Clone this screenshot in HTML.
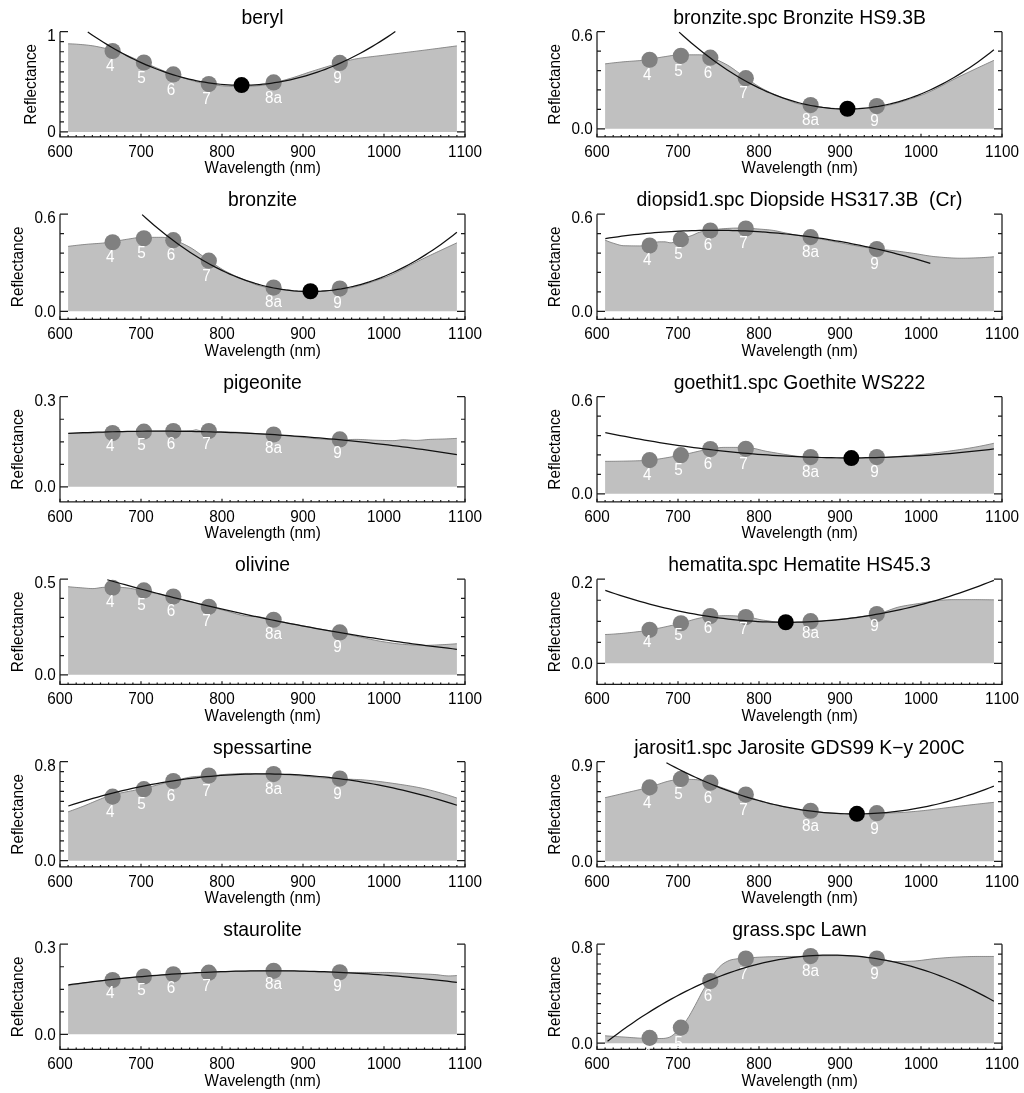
<!DOCTYPE html>
<html lang="en"><head><meta charset="utf-8"><title>Reflectance spectra</title>
<style>html,body{margin:0;padding:0;background:#fff}svg{display:block}</style>
</head><body>
<svg width="1024" height="1093" viewBox="0 0 1024 1093" font-family="'Liberation Sans', Arial, Helvetica, sans-serif" style="font-kerning:none">
<rect width="1024" height="1093" fill="#fff"/>
<g>
<path d="M60,31.7 V136.9 H465 V31.7" fill="none" stroke="#1a1a1a" stroke-width="1.25" stroke-linejoin="miter"/>
<path d="M60,131.89 h8 M465,131.89 h-8 M60,121.87 h4 M465,121.87 h-4 M60,111.85 h4 M465,111.85 h-4 M60,101.83 h4 M465,101.83 h-4 M60,91.81 h4 M465,91.81 h-4 M60,81.8 h4 M465,81.8 h-4 M60,71.78 h4 M465,71.78 h-4 M60,61.76 h4 M465,61.76 h-4 M60,51.74 h4 M465,51.74 h-4 M60,41.72 h4 M465,41.72 h-4 M60,31.7 h8 M465,31.7 h-8 M60,136.9 v-3.2 M68.1,136.9 v-1.8 M76.2,136.9 v-1.8 M84.3,136.9 v-1.8 M92.4,136.9 v-1.8 M100.5,136.9 v-1.8 M108.6,136.9 v-1.8 M116.7,136.9 v-1.8 M124.8,136.9 v-1.8 M132.9,136.9 v-1.8 M141,136.9 v-3.2 M149.1,136.9 v-1.8 M157.2,136.9 v-1.8 M165.3,136.9 v-1.8 M173.4,136.9 v-1.8 M181.5,136.9 v-1.8 M189.6,136.9 v-1.8 M197.7,136.9 v-1.8 M205.8,136.9 v-1.8 M213.9,136.9 v-1.8 M222,136.9 v-3.2 M230.1,136.9 v-1.8 M238.2,136.9 v-1.8 M246.3,136.9 v-1.8 M254.4,136.9 v-1.8 M262.5,136.9 v-1.8 M270.6,136.9 v-1.8 M278.7,136.9 v-1.8 M286.8,136.9 v-1.8 M294.9,136.9 v-1.8 M303,136.9 v-3.2 M311.1,136.9 v-1.8 M319.2,136.9 v-1.8 M327.3,136.9 v-1.8 M335.4,136.9 v-1.8 M343.5,136.9 v-1.8 M351.6,136.9 v-1.8 M359.7,136.9 v-1.8 M367.8,136.9 v-1.8 M375.9,136.9 v-1.8 M384,136.9 v-3.2 M392.1,136.9 v-1.8 M400.2,136.9 v-1.8 M408.3,136.9 v-1.8 M416.4,136.9 v-1.8 M424.5,136.9 v-1.8 M432.6,136.9 v-1.8 M440.7,136.9 v-1.8 M448.8,136.9 v-1.8 M456.9,136.9 v-1.8 M465,136.9 v-3.2" fill="none" stroke="#1a1a1a" stroke-width="1.2"/>
<polygon points="68.1,131.89 68.1,43.84 70.1,43.87 72.1,43.94 74.1,44.04 76.1,44.16 78.1,44.3 80.1,44.46 82.1,44.63 84.1,44.82 86.1,45.01 88.1,45.21 90.1,45.46 92.1,45.74 94.1,46.06 96.1,46.42 98.1,46.8 100.1,47.22 102.1,47.66 104.1,48.12 106.1,48.6 108.1,49.09 110.1,49.6 112.1,50.12 114.1,50.67 116.1,51.27 118.1,51.93 120.1,52.64 122.1,53.39 124.1,54.17 126.1,54.98 128.1,55.82 130.1,56.68 132.1,57.54 134.1,58.41 136.1,59.28 138.1,60.14 140.1,60.99 142.1,61.83 144.1,62.63 146.1,63.45 148.1,64.28 150.1,65.12 152.1,65.98 154.1,66.84 156.1,67.7 158.1,68.55 160.1,69.4 162.1,70.24 164.1,71.06 166.1,71.85 168.1,72.62 170.1,73.36 172.1,74.06 174.1,74.73 176.1,75.4 178.1,76.07 180.1,76.74 182.1,77.41 184.1,78.07 186.1,78.72 188.1,79.35 190.1,79.97 192.1,80.56 194.1,81.13 196.1,81.68 198.1,82.19 200.1,82.67 202.1,83.11 204.1,83.51 206.1,83.87 208.1,84.18 210.1,84.45 212.1,84.71 214.1,84.96 216.1,85.2 218.1,85.42 220.1,85.62 222.1,85.81 224.1,85.97 226.1,86.1 228.1,86.21 230.1,86.29 232.1,86.34 234.1,86.39 236.1,86.44 238.1,86.47 240.1,86.49 242.1,86.5 244.1,86.48 246.1,86.43 248.1,86.36 250.1,86.27 252.1,86.15 254.1,86.03 256.1,85.88 258.1,85.73 260.1,85.56 262.1,85.37 264.1,85.06 266.1,84.67 268.1,84.2 270.1,83.71 272.1,83.2 274.1,82.72 276.1,82.24 278.1,81.75 280.1,81.24 282.1,80.72 284.1,80.18 286.1,79.63 288.1,79.06 290.1,78.49 292.1,77.9 294.1,77.27 296.1,76.63 298.1,75.96 300.1,75.28 302.1,74.6 304.1,73.91 306.1,73.23 308.1,72.55 310.1,71.9 312.1,71.27 314.1,70.64 316.1,70.01 318.1,69.38 320.1,68.76 322.1,68.14 324.1,67.53 326.1,66.92 328.1,66.31 330.1,65.72 332.1,65.13 334.1,64.55 336.1,63.99 338.1,63.43 340.1,62.88 342.1,62.33 344.1,61.78 346.1,61.23 348.1,60.69 350.1,60.18 352.1,59.69 354.1,59.25 356.1,58.86 358.1,58.52 360.1,58.2 362.1,57.9 364.1,57.62 366.1,57.36 368.1,57.11 370.1,56.86 372.1,56.63 374.1,56.39 376.1,56.16 378.1,55.93 380.1,55.69 382.1,55.45 384.1,55.19 386.1,54.94 388.1,54.68 390.1,54.43 392.1,54.18 394.1,53.93 396.1,53.69 398.1,53.44 400.1,53.19 402.1,52.94 404.1,52.7 406.1,52.45 408.1,52.2 410.1,51.95 412.1,51.71 414.1,51.46 416.1,51.21 418.1,50.96 420.1,50.7 422.1,50.45 424.1,50.19 426.1,49.94 428.1,49.68 430.1,49.42 432.1,49.16 434.1,48.9 436.1,48.64 438.1,48.38 440.1,48.12 442.1,47.86 444.1,47.59 446.1,47.33 448.1,47.06 450.1,46.8 452.1,46.53 454.1,46.26 456.1,46 456.9,45.89 456.9,131.89" fill="#c0c0c0"/>
<polyline points="68.1,43.84 70.1,43.87 72.1,43.94 74.1,44.04 76.1,44.16 78.1,44.3 80.1,44.46 82.1,44.63 84.1,44.82 86.1,45.01 88.1,45.21 90.1,45.46 92.1,45.74 94.1,46.06 96.1,46.42 98.1,46.8 100.1,47.22 102.1,47.66 104.1,48.12 106.1,48.6 108.1,49.09 110.1,49.6 112.1,50.12 114.1,50.67 116.1,51.27 118.1,51.93 120.1,52.64 122.1,53.39 124.1,54.17 126.1,54.98 128.1,55.82 130.1,56.68 132.1,57.54 134.1,58.41 136.1,59.28 138.1,60.14 140.1,60.99 142.1,61.83 144.1,62.63 146.1,63.45 148.1,64.28 150.1,65.12 152.1,65.98 154.1,66.84 156.1,67.7 158.1,68.55 160.1,69.4 162.1,70.24 164.1,71.06 166.1,71.85 168.1,72.62 170.1,73.36 172.1,74.06 174.1,74.73 176.1,75.4 178.1,76.07 180.1,76.74 182.1,77.41 184.1,78.07 186.1,78.72 188.1,79.35 190.1,79.97 192.1,80.56 194.1,81.13 196.1,81.68 198.1,82.19 200.1,82.67 202.1,83.11 204.1,83.51 206.1,83.87 208.1,84.18 210.1,84.45 212.1,84.71 214.1,84.96 216.1,85.2 218.1,85.42 220.1,85.62 222.1,85.81 224.1,85.97 226.1,86.1 228.1,86.21 230.1,86.29 232.1,86.34 234.1,86.39 236.1,86.44 238.1,86.47 240.1,86.49 242.1,86.5 244.1,86.48 246.1,86.43 248.1,86.36 250.1,86.27 252.1,86.15 254.1,86.03 256.1,85.88 258.1,85.73 260.1,85.56 262.1,85.37 264.1,85.06 266.1,84.67 268.1,84.2 270.1,83.71 272.1,83.2 274.1,82.72 276.1,82.24 278.1,81.75 280.1,81.24 282.1,80.72 284.1,80.18 286.1,79.63 288.1,79.06 290.1,78.49 292.1,77.9 294.1,77.27 296.1,76.63 298.1,75.96 300.1,75.28 302.1,74.6 304.1,73.91 306.1,73.23 308.1,72.55 310.1,71.9 312.1,71.27 314.1,70.64 316.1,70.01 318.1,69.38 320.1,68.76 322.1,68.14 324.1,67.53 326.1,66.92 328.1,66.31 330.1,65.72 332.1,65.13 334.1,64.55 336.1,63.99 338.1,63.43 340.1,62.88 342.1,62.33 344.1,61.78 346.1,61.23 348.1,60.69 350.1,60.18 352.1,59.69 354.1,59.25 356.1,58.86 358.1,58.52 360.1,58.2 362.1,57.9 364.1,57.62 366.1,57.36 368.1,57.11 370.1,56.86 372.1,56.63 374.1,56.39 376.1,56.16 378.1,55.93 380.1,55.69 382.1,55.45 384.1,55.19 386.1,54.94 388.1,54.68 390.1,54.43 392.1,54.18 394.1,53.93 396.1,53.69 398.1,53.44 400.1,53.19 402.1,52.94 404.1,52.7 406.1,52.45 408.1,52.2 410.1,51.95 412.1,51.71 414.1,51.46 416.1,51.21 418.1,50.96 420.1,50.7 422.1,50.45 424.1,50.19 426.1,49.94 428.1,49.68 430.1,49.42 432.1,49.16 434.1,48.9 436.1,48.64 438.1,48.38 440.1,48.12 442.1,47.86 444.1,47.59 446.1,47.33 448.1,47.06 450.1,46.8 452.1,46.53 454.1,46.26 456.1,46 456.9,45.89" fill="none" stroke="#8a8a8a" stroke-width="1"/>
<circle cx="112.6" cy="51.02" r="8.1" fill="#808080"/>
<circle cx="143.9" cy="62.5" r="8.1" fill="#808080"/>
<circle cx="173.3" cy="74.4" r="8.1" fill="#808080"/>
<circle cx="208.8" cy="84.04" r="8.1" fill="#808080"/>
<circle cx="273.6" cy="82.4" r="8.1" fill="#808080"/>
<circle cx="339.8" cy="62.91" r="8.1" fill="#808080"/>
<text transform="translate(110.3,71.46) scale(1,1.02)" font-size="15.3" fill="#fff" text-anchor="middle">4</text>
<text transform="translate(141.6,82.94) scale(1,1.02)" font-size="15.3" fill="#fff" text-anchor="middle">5</text>
<text transform="translate(171,94.84) scale(1,1.02)" font-size="15.3" fill="#fff" text-anchor="middle">6</text>
<text transform="translate(206.5,104.48) scale(1,1.02)" font-size="15.3" fill="#fff" text-anchor="middle">7</text>
<text transform="translate(273.6,102.83) scale(1,1.02)" font-size="15.3" fill="#fff" text-anchor="middle">8a</text>
<text transform="translate(337.5,83.35) scale(1,1.02)" font-size="15.3" fill="#fff" text-anchor="middle">9</text>
<polyline points="87.79,31.98 91.68,34.65 95.57,37.25 99.47,39.78 103.36,42.25 107.25,44.64 111.15,46.97 115.04,49.22 118.93,51.41 122.83,53.53 126.72,55.58 130.61,57.57 134.51,59.48 138.4,61.33 142.29,63.1 146.19,64.81 150.08,66.45 153.97,68.02 157.87,69.53 161.76,70.96 165.65,72.33 169.54,73.63 173.44,74.85 177.33,76.01 181.22,77.11 185.12,78.13 189.01,79.08 192.9,79.97 196.8,80.79 200.69,81.54 204.58,82.22 208.48,82.83 212.37,83.37 216.26,83.85 220.16,84.25 224.05,84.59 227.94,84.86 231.84,85.06 235.73,85.19 239.62,85.25 243.52,85.25 247.41,85.17 251.3,85.03 255.2,84.82 259.09,84.54 262.98,84.19 266.88,83.78 270.77,83.29 274.66,82.74 278.55,82.12 282.45,81.43 286.34,80.67 290.23,79.84 294.13,78.94 298.02,77.98 301.91,76.94 305.81,75.84 309.7,74.67 313.59,73.43 317.49,72.12 321.38,70.75 325.27,69.3 329.17,67.79 333.06,66.21 336.95,64.56 340.85,62.84 344.74,61.05 348.63,59.19 352.53,57.27 356.42,55.27 360.31,53.21 364.21,51.08 368.1,48.88 371.99,46.62 375.89,44.28 379.78,41.88 383.67,39.4 387.57,36.86 391.46,34.25 395.35,31.57" fill="none" stroke="#111" stroke-width="1.25"/>
<circle cx="241.6" cy="85.06" r="8" fill="#000"/>
<text transform="translate(60,156.7) scale(1,1.07)" font-size="15.3" fill="#000" text-anchor="middle">600</text>
<text transform="translate(141,156.7) scale(1,1.07)" font-size="15.3" fill="#000" text-anchor="middle">700</text>
<text transform="translate(222,156.7) scale(1,1.07)" font-size="15.3" fill="#000" text-anchor="middle">800</text>
<text transform="translate(303,156.7) scale(1,1.07)" font-size="15.3" fill="#000" text-anchor="middle">900</text>
<text transform="translate(384,156.7) scale(1,1.07)" font-size="15.3" fill="#000" text-anchor="middle">1000</text>
<text transform="translate(465,156.7) scale(1,1.07)" font-size="15.3" fill="#000" text-anchor="middle">1100</text>
<text transform="translate(262.7,173) scale(1,1.04)" font-size="15.3" fill="#000" text-anchor="middle">Wavelength (nm)</text>
<text transform="translate(55.8,40.8) scale(1,1.07)" font-size="15.3" fill="#000" text-anchor="end">1</text>
<text transform="translate(55.8,137.39) scale(1,1.07)" font-size="15.3" fill="#000" text-anchor="end">0</text>
<text transform="translate(35.6,84.3) rotate(-90) scale(1,1.04)" font-size="15.3" fill="#000" text-anchor="middle">Reflectance</text>
<text transform="translate(262.5,23.95)" font-size="19.35" fill="#000" text-anchor="middle">beryl</text>
</g>
<g>
<path d="M60,214.2 V319.4 H465 V214.2" fill="none" stroke="#1a1a1a" stroke-width="1.25" stroke-linejoin="miter"/>
<path d="M60,311.31 h8 M465,311.31 h-8 M60,291.89 h4 M465,291.89 h-4 M60,272.46 h4 M465,272.46 h-4 M60,253.04 h4 M465,253.04 h-4 M60,233.62 h4 M465,233.62 h-4 M60,214.2 h8 M465,214.2 h-8 M60,319.4 v-3.2 M68.1,319.4 v-1.8 M76.2,319.4 v-1.8 M84.3,319.4 v-1.8 M92.4,319.4 v-1.8 M100.5,319.4 v-1.8 M108.6,319.4 v-1.8 M116.7,319.4 v-1.8 M124.8,319.4 v-1.8 M132.9,319.4 v-1.8 M141,319.4 v-3.2 M149.1,319.4 v-1.8 M157.2,319.4 v-1.8 M165.3,319.4 v-1.8 M173.4,319.4 v-1.8 M181.5,319.4 v-1.8 M189.6,319.4 v-1.8 M197.7,319.4 v-1.8 M205.8,319.4 v-1.8 M213.9,319.4 v-1.8 M222,319.4 v-3.2 M230.1,319.4 v-1.8 M238.2,319.4 v-1.8 M246.3,319.4 v-1.8 M254.4,319.4 v-1.8 M262.5,319.4 v-1.8 M270.6,319.4 v-1.8 M278.7,319.4 v-1.8 M286.8,319.4 v-1.8 M294.9,319.4 v-1.8 M303,319.4 v-3.2 M311.1,319.4 v-1.8 M319.2,319.4 v-1.8 M327.3,319.4 v-1.8 M335.4,319.4 v-1.8 M343.5,319.4 v-1.8 M351.6,319.4 v-1.8 M359.7,319.4 v-1.8 M367.8,319.4 v-1.8 M375.9,319.4 v-1.8 M384,319.4 v-3.2 M392.1,319.4 v-1.8 M400.2,319.4 v-1.8 M408.3,319.4 v-1.8 M416.4,319.4 v-1.8 M424.5,319.4 v-1.8 M432.6,319.4 v-1.8 M440.7,319.4 v-1.8 M448.8,319.4 v-1.8 M456.9,319.4 v-1.8 M465,319.4 v-3.2" fill="none" stroke="#1a1a1a" stroke-width="1.2"/>
<polygon points="68.1,311.31 68.1,246.38 70.1,246.12 72.1,245.88 74.1,245.64 76.1,245.4 78.1,245.18 80.1,244.96 82.1,244.75 84.1,244.55 86.1,244.36 88.1,244.18 90.1,244.02 92.1,243.88 94.1,243.74 96.1,243.6 98.1,243.46 100.1,243.32 102.1,243.16 104.1,242.98 106.1,242.77 108.1,242.52 110.1,242.23 112.1,241.9 114.1,241.56 116.1,241.2 118.1,240.83 120.1,240.46 122.1,240.1 124.1,239.75 126.1,239.42 128.1,239.13 130.1,238.81 132.1,238.47 134.1,238.13 136.1,237.82 138.1,237.57 140.1,237.39 142.1,237.33 144.1,237.33 146.1,237.33 148.1,237.33 150.1,237.33 152.1,237.33 154.1,237.33 156.1,237.33 158.1,237.33 160.1,237.33 162.1,237.33 164.1,237.4 166.1,237.73 168.1,238.23 170.1,238.84 172.1,239.48 174.1,240.1 176.1,240.79 178.1,241.56 180.1,242.41 182.1,243.31 184.1,244.27 186.1,245.28 188.1,246.32 190.1,247.4 192.1,248.59 194.1,249.89 196.1,251.27 198.1,252.71 200.1,254.18 202.1,255.67 204.1,257.15 206.1,258.59 208.1,259.97 210.1,261.31 212.1,262.66 214.1,264.02 216.1,265.37 218.1,266.69 220.1,267.98 222.1,269.22 224.1,270.41 226.1,271.51 228.1,272.55 230.1,273.55 232.1,274.51 234.1,275.43 236.1,276.33 238.1,277.2 240.1,278.05 242.1,278.89 244.1,279.72 246.1,280.55 248.1,281.38 250.1,282.25 252.1,283.11 254.1,283.95 256.1,284.72 258.1,285.4 260.1,285.95 262.1,286.42 264.1,286.85 266.1,287.23 268.1,287.58 270.1,287.9 272.1,288.18 274.1,288.43 276.1,288.68 278.1,288.92 280.1,289.16 282.1,289.4 284.1,289.63 286.1,289.86 288.1,290.08 290.1,290.29 292.1,290.48 294.1,290.67 296.1,290.84 298.1,290.99 300.1,291.12 302.1,291.24 304.1,291.33 306.1,291.4 308.1,291.45 310.1,291.47 312.1,291.46 314.1,291.43 316.1,291.38 318.1,291.3 320.1,291.21 322.1,291.1 324.1,290.98 326.1,290.84 328.1,290.69 330.1,290.53 332.1,290.36 334.1,290.18 336.1,289.99 338.1,289.8 340.1,289.61 342.1,289.39 344.1,289.12 346.1,288.81 348.1,288.46 350.1,288.07 352.1,287.64 354.1,287.18 356.1,286.69 358.1,286.16 360.1,285.61 362.1,285.04 364.1,284.44 366.1,283.83 368.1,283.19 370.1,282.55 372.1,281.88 374.1,281.21 376.1,280.53 378.1,279.84 380.1,279.15 382.1,278.46 384.1,277.77 386.1,277.02 388.1,276.23 390.1,275.38 392.1,274.5 394.1,273.58 396.1,272.63 398.1,271.65 400.1,270.65 402.1,269.62 404.1,268.58 406.1,267.53 408.1,266.47 410.1,265.4 412.1,264.34 414.1,263.28 416.1,262.24 418.1,261.2 420.1,260.19 422.1,259.19 424.1,258.23 426.1,257.27 428.1,256.32 430.1,255.38 432.1,254.43 434.1,253.49 436.1,252.54 438.1,251.6 440.1,250.67 442.1,249.73 444.1,248.79 446.1,247.86 448.1,246.93 450.1,246 452.1,245.07 454.1,244.15 456.1,243.22 456.9,242.85 456.9,311.31" fill="#c0c0c0"/>
<polyline points="68.1,246.38 70.1,246.12 72.1,245.88 74.1,245.64 76.1,245.4 78.1,245.18 80.1,244.96 82.1,244.75 84.1,244.55 86.1,244.36 88.1,244.18 90.1,244.02 92.1,243.88 94.1,243.74 96.1,243.6 98.1,243.46 100.1,243.32 102.1,243.16 104.1,242.98 106.1,242.77 108.1,242.52 110.1,242.23 112.1,241.9 114.1,241.56 116.1,241.2 118.1,240.83 120.1,240.46 122.1,240.1 124.1,239.75 126.1,239.42 128.1,239.13 130.1,238.81 132.1,238.47 134.1,238.13 136.1,237.82 138.1,237.57 140.1,237.39 142.1,237.33 144.1,237.33 146.1,237.33 148.1,237.33 150.1,237.33 152.1,237.33 154.1,237.33 156.1,237.33 158.1,237.33 160.1,237.33 162.1,237.33 164.1,237.4 166.1,237.73 168.1,238.23 170.1,238.84 172.1,239.48 174.1,240.1 176.1,240.79 178.1,241.56 180.1,242.41 182.1,243.31 184.1,244.27 186.1,245.28 188.1,246.32 190.1,247.4 192.1,248.59 194.1,249.89 196.1,251.27 198.1,252.71 200.1,254.18 202.1,255.67 204.1,257.15 206.1,258.59 208.1,259.97 210.1,261.31 212.1,262.66 214.1,264.02 216.1,265.37 218.1,266.69 220.1,267.98 222.1,269.22 224.1,270.41 226.1,271.51 228.1,272.55 230.1,273.55 232.1,274.51 234.1,275.43 236.1,276.33 238.1,277.2 240.1,278.05 242.1,278.89 244.1,279.72 246.1,280.55 248.1,281.38 250.1,282.25 252.1,283.11 254.1,283.95 256.1,284.72 258.1,285.4 260.1,285.95 262.1,286.42 264.1,286.85 266.1,287.23 268.1,287.58 270.1,287.9 272.1,288.18 274.1,288.43 276.1,288.68 278.1,288.92 280.1,289.16 282.1,289.4 284.1,289.63 286.1,289.86 288.1,290.08 290.1,290.29 292.1,290.48 294.1,290.67 296.1,290.84 298.1,290.99 300.1,291.12 302.1,291.24 304.1,291.33 306.1,291.4 308.1,291.45 310.1,291.47 312.1,291.46 314.1,291.43 316.1,291.38 318.1,291.3 320.1,291.21 322.1,291.1 324.1,290.98 326.1,290.84 328.1,290.69 330.1,290.53 332.1,290.36 334.1,290.18 336.1,289.99 338.1,289.8 340.1,289.61 342.1,289.39 344.1,289.12 346.1,288.81 348.1,288.46 350.1,288.07 352.1,287.64 354.1,287.18 356.1,286.69 358.1,286.16 360.1,285.61 362.1,285.04 364.1,284.44 366.1,283.83 368.1,283.19 370.1,282.55 372.1,281.88 374.1,281.21 376.1,280.53 378.1,279.84 380.1,279.15 382.1,278.46 384.1,277.77 386.1,277.02 388.1,276.23 390.1,275.38 392.1,274.5 394.1,273.58 396.1,272.63 398.1,271.65 400.1,270.65 402.1,269.62 404.1,268.58 406.1,267.53 408.1,266.47 410.1,265.4 412.1,264.34 414.1,263.28 416.1,262.24 418.1,261.2 420.1,260.19 422.1,259.19 424.1,258.23 426.1,257.27 428.1,256.32 430.1,255.38 432.1,254.43 434.1,253.49 436.1,252.54 438.1,251.6 440.1,250.67 442.1,249.73 444.1,248.79 446.1,247.86 448.1,246.93 450.1,246 452.1,245.07 454.1,244.15 456.1,243.22 456.9,242.85" fill="none" stroke="#8a8a8a" stroke-width="1"/>
<circle cx="112.6" cy="242.25" r="8.1" fill="#808080"/>
<circle cx="143.9" cy="238.35" r="8.1" fill="#808080"/>
<circle cx="173.3" cy="240.2" r="8.1" fill="#808080"/>
<circle cx="208.8" cy="260.71" r="8.1" fill="#808080"/>
<circle cx="273.6" cy="287.57" r="8.1" fill="#808080"/>
<circle cx="339.8" cy="288.6" r="8.1" fill="#808080"/>
<text transform="translate(110.3,262.07) scale(1,1.02)" font-size="15.3" fill="#fff" text-anchor="middle">4</text>
<text transform="translate(141.6,258.17) scale(1,1.02)" font-size="15.3" fill="#fff" text-anchor="middle">5</text>
<text transform="translate(171,260.02) scale(1,1.02)" font-size="15.3" fill="#fff" text-anchor="middle">6</text>
<text transform="translate(206.5,280.53) scale(1,1.02)" font-size="15.3" fill="#fff" text-anchor="middle">7</text>
<text transform="translate(273.6,307.39) scale(1,1.02)" font-size="15.3" fill="#fff" text-anchor="middle">8a</text>
<text transform="translate(337.5,308.42) scale(1,1.02)" font-size="15.3" fill="#fff" text-anchor="middle">9</text>
<polyline points="142.13,214.63 146.12,218.24 150.1,221.77 154.09,225.21 158.07,228.56 162.05,231.83 166.04,235.01 170.02,238.1 174.01,241.11 177.99,244.03 181.97,246.86 185.96,249.6 189.94,252.26 193.93,254.83 197.91,257.32 201.89,259.71 205.88,262.02 209.86,264.25 213.85,266.38 217.83,268.43 221.81,270.39 225.8,272.27 229.78,274.06 233.77,275.76 237.75,277.37 241.73,278.9 245.72,280.34 249.7,281.69 253.69,282.96 257.67,284.14 261.66,285.23 265.64,286.24 269.62,287.16 273.61,287.99 277.59,288.73 281.58,289.39 285.56,289.96 289.54,290.44 293.53,290.84 297.51,291.15 301.5,291.37 305.48,291.51 309.46,291.56 313.45,291.52 317.43,291.39 321.42,291.18 325.4,290.88 329.38,290.5 333.37,290.03 337.35,289.47 341.34,288.82 345.32,288.08 349.3,287.26 353.29,286.36 357.27,285.36 361.26,284.28 365.24,283.11 369.23,281.86 373.21,280.51 377.19,279.08 381.18,277.57 385.16,275.96 389.15,274.27 393.13,272.5 397.11,270.63 401.1,268.68 405.08,266.64 409.07,264.52 413.05,262.31 417.03,260.01 421.02,257.62 425,255.15 428.99,252.59 432.97,249.94 436.95,247.21 440.94,244.39 444.92,241.48 448.91,238.48 452.89,235.4 456.88,232.23" fill="none" stroke="#111" stroke-width="1.25"/>
<circle cx="310.45" cy="291.26" r="8" fill="#000"/>
<text transform="translate(60,339.2) scale(1,1.07)" font-size="15.3" fill="#000" text-anchor="middle">600</text>
<text transform="translate(141,339.2) scale(1,1.07)" font-size="15.3" fill="#000" text-anchor="middle">700</text>
<text transform="translate(222,339.2) scale(1,1.07)" font-size="15.3" fill="#000" text-anchor="middle">800</text>
<text transform="translate(303,339.2) scale(1,1.07)" font-size="15.3" fill="#000" text-anchor="middle">900</text>
<text transform="translate(384,339.2) scale(1,1.07)" font-size="15.3" fill="#000" text-anchor="middle">1000</text>
<text transform="translate(465,339.2) scale(1,1.07)" font-size="15.3" fill="#000" text-anchor="middle">1100</text>
<text transform="translate(262.7,355.5) scale(1,1.04)" font-size="15.3" fill="#000" text-anchor="middle">Wavelength (nm)</text>
<text transform="translate(55.8,223.3) scale(1,1.07)" font-size="15.3" fill="#000" text-anchor="end">0.6</text>
<text transform="translate(55.8,316.81) scale(1,1.07)" font-size="15.3" fill="#000" text-anchor="end">0.0</text>
<text transform="translate(22.6,266.8) rotate(-90) scale(1,1.04)" font-size="15.3" fill="#000" text-anchor="middle">Reflectance</text>
<text transform="translate(262.5,206.45)" font-size="19.35" fill="#000" text-anchor="middle">bronzite</text>
</g>
<g>
<path d="M60,396.7 V501.9 H465 V396.7" fill="none" stroke="#1a1a1a" stroke-width="1.25" stroke-linejoin="miter"/>
<path d="M60,486.87 h8 M465,486.87 h-8 M60,464.33 h4 M465,464.33 h-4 M60,441.79 h4 M465,441.79 h-4 M60,419.24 h4 M465,419.24 h-4 M60,396.7 h8 M465,396.7 h-8 M60,501.9 v-3.2 M68.1,501.9 v-1.8 M76.2,501.9 v-1.8 M84.3,501.9 v-1.8 M92.4,501.9 v-1.8 M100.5,501.9 v-1.8 M108.6,501.9 v-1.8 M116.7,501.9 v-1.8 M124.8,501.9 v-1.8 M132.9,501.9 v-1.8 M141,501.9 v-3.2 M149.1,501.9 v-1.8 M157.2,501.9 v-1.8 M165.3,501.9 v-1.8 M173.4,501.9 v-1.8 M181.5,501.9 v-1.8 M189.6,501.9 v-1.8 M197.7,501.9 v-1.8 M205.8,501.9 v-1.8 M213.9,501.9 v-1.8 M222,501.9 v-3.2 M230.1,501.9 v-1.8 M238.2,501.9 v-1.8 M246.3,501.9 v-1.8 M254.4,501.9 v-1.8 M262.5,501.9 v-1.8 M270.6,501.9 v-1.8 M278.7,501.9 v-1.8 M286.8,501.9 v-1.8 M294.9,501.9 v-1.8 M303,501.9 v-3.2 M311.1,501.9 v-1.8 M319.2,501.9 v-1.8 M327.3,501.9 v-1.8 M335.4,501.9 v-1.8 M343.5,501.9 v-1.8 M351.6,501.9 v-1.8 M359.7,501.9 v-1.8 M367.8,501.9 v-1.8 M375.9,501.9 v-1.8 M384,501.9 v-3.2 M392.1,501.9 v-1.8 M400.2,501.9 v-1.8 M408.3,501.9 v-1.8 M416.4,501.9 v-1.8 M424.5,501.9 v-1.8 M432.6,501.9 v-1.8 M440.7,501.9 v-1.8 M448.8,501.9 v-1.8 M456.9,501.9 v-1.8 M465,501.9 v-3.2" fill="none" stroke="#1a1a1a" stroke-width="1.2"/>
<polygon points="68.1,486.87 68.1,433.45 70.1,433.45 72.1,433.44 74.1,433.42 76.1,433.4 78.1,433.37 80.1,433.33 82.1,433.3 84.1,433.25 86.1,433.21 88.1,433.16 90.1,433.11 92.1,433.06 94.1,433.01 96.1,432.92 98.1,432.82 100.1,432.7 102.1,432.57 104.1,432.44 106.1,432.32 108.1,432.2 110.1,432.1 112.1,432.02 114.1,431.97 116.1,431.91 118.1,431.86 120.1,431.82 122.1,431.77 124.1,431.73 126.1,431.69 128.1,431.66 130.1,431.62 132.1,431.59 134.1,431.55 136.1,431.52 138.1,431.49 140.1,431.46 142.1,431.43 144.1,431.4 146.1,431.36 148.1,431.33 150.1,431.3 152.1,431.27 154.1,431.24 156.1,431.21 158.1,431.19 160.1,431.16 162.1,431.13 164.1,431.1 166.1,431.08 168.1,431.05 170.1,431.03 172.1,431 174.1,430.98 176.1,430.96 178.1,430.95 180.1,430.93 182.1,430.92 184.1,430.9 186.1,430.88 188.1,430.85 190.1,430.81 192.1,430.71 194.1,430.2 196.1,429.78 198.1,430.28 200.1,430.83 202.1,430.96 204.1,431.05 206.1,431.11 208.1,431.18 210.1,431.26 212.1,431.34 214.1,431.41 216.1,431.48 218.1,431.55 220.1,431.62 222.1,431.69 224.1,431.76 226.1,431.82 228.1,431.9 230.1,431.97 232.1,432.04 234.1,432.13 236.1,432.21 238.1,432.3 240.1,432.4 242.1,432.51 244.1,432.64 246.1,432.78 248.1,432.93 250.1,433.1 252.1,433.26 254.1,433.42 256.1,433.58 258.1,433.73 260.1,433.87 262.1,433.99 264.1,434.11 266.1,434.23 268.1,434.34 270.1,434.46 272.1,434.58 274.1,434.71 276.1,434.84 278.1,434.99 280.1,435.16 282.1,435.32 284.1,435.5 286.1,435.69 288.1,435.88 290.1,436.07 292.1,436.27 294.1,436.48 296.1,436.68 298.1,436.89 300.1,437.1 302.1,437.3 304.1,437.51 306.1,437.71 308.1,437.91 310.1,438.11 312.1,438.29 314.1,438.48 316.1,438.65 318.1,438.82 320.1,438.97 322.1,439.12 324.1,439.26 326.1,439.38 328.1,439.49 330.1,439.58 332.1,439.66 334.1,439.73 336.1,439.77 338.1,439.8 340.1,439.81 342.1,439.79 344.1,439.74 346.1,439.68 348.1,439.61 350.1,439.53 352.1,439.47 354.1,439.42 356.1,439.4 358.1,439.41 360.1,439.47 362.1,439.55 364.1,439.65 366.1,439.77 368.1,439.89 370.1,440.01 372.1,440.11 374.1,440.19 376.1,440.26 378.1,440.32 380.1,440.38 382.1,440.44 384.1,440.49 386.1,440.54 388.1,440.58 390.1,440.61 392.1,440.63 394.1,440.61 396.1,440.48 398.1,440.26 400.1,440.03 402.1,439.85 404.1,439.81 406.1,439.88 408.1,440 410.1,440.15 412.1,440.29 414.1,440.39 416.1,440.42 418.1,440.37 420.1,440.24 422.1,440.07 424.1,439.88 426.1,439.69 428.1,439.52 430.1,439.4 432.1,439.33 434.1,439.27 436.1,439.22 438.1,439.17 440.1,439.12 442.1,439.07 444.1,439.01 446.1,438.93 448.1,438.84 450.1,438.75 452.1,438.64 454.1,438.53 456.1,438.42 456.9,438.37 456.9,486.87" fill="#c0c0c0"/>
<polyline points="68.1,433.45 70.1,433.45 72.1,433.44 74.1,433.42 76.1,433.4 78.1,433.37 80.1,433.33 82.1,433.3 84.1,433.25 86.1,433.21 88.1,433.16 90.1,433.11 92.1,433.06 94.1,433.01 96.1,432.92 98.1,432.82 100.1,432.7 102.1,432.57 104.1,432.44 106.1,432.32 108.1,432.2 110.1,432.1 112.1,432.02 114.1,431.97 116.1,431.91 118.1,431.86 120.1,431.82 122.1,431.77 124.1,431.73 126.1,431.69 128.1,431.66 130.1,431.62 132.1,431.59 134.1,431.55 136.1,431.52 138.1,431.49 140.1,431.46 142.1,431.43 144.1,431.4 146.1,431.36 148.1,431.33 150.1,431.3 152.1,431.27 154.1,431.24 156.1,431.21 158.1,431.19 160.1,431.16 162.1,431.13 164.1,431.1 166.1,431.08 168.1,431.05 170.1,431.03 172.1,431 174.1,430.98 176.1,430.96 178.1,430.95 180.1,430.93 182.1,430.92 184.1,430.9 186.1,430.88 188.1,430.85 190.1,430.81 192.1,430.71 194.1,430.2 196.1,429.78 198.1,430.28 200.1,430.83 202.1,430.96 204.1,431.05 206.1,431.11 208.1,431.18 210.1,431.26 212.1,431.34 214.1,431.41 216.1,431.48 218.1,431.55 220.1,431.62 222.1,431.69 224.1,431.76 226.1,431.82 228.1,431.9 230.1,431.97 232.1,432.04 234.1,432.13 236.1,432.21 238.1,432.3 240.1,432.4 242.1,432.51 244.1,432.64 246.1,432.78 248.1,432.93 250.1,433.1 252.1,433.26 254.1,433.42 256.1,433.58 258.1,433.73 260.1,433.87 262.1,433.99 264.1,434.11 266.1,434.23 268.1,434.34 270.1,434.46 272.1,434.58 274.1,434.71 276.1,434.84 278.1,434.99 280.1,435.16 282.1,435.32 284.1,435.5 286.1,435.69 288.1,435.88 290.1,436.07 292.1,436.27 294.1,436.48 296.1,436.68 298.1,436.89 300.1,437.1 302.1,437.3 304.1,437.51 306.1,437.71 308.1,437.91 310.1,438.11 312.1,438.29 314.1,438.48 316.1,438.65 318.1,438.82 320.1,438.97 322.1,439.12 324.1,439.26 326.1,439.38 328.1,439.49 330.1,439.58 332.1,439.66 334.1,439.73 336.1,439.77 338.1,439.8 340.1,439.81 342.1,439.79 344.1,439.74 346.1,439.68 348.1,439.61 350.1,439.53 352.1,439.47 354.1,439.42 356.1,439.4 358.1,439.41 360.1,439.47 362.1,439.55 364.1,439.65 366.1,439.77 368.1,439.89 370.1,440.01 372.1,440.11 374.1,440.19 376.1,440.26 378.1,440.32 380.1,440.38 382.1,440.44 384.1,440.49 386.1,440.54 388.1,440.58 390.1,440.61 392.1,440.63 394.1,440.61 396.1,440.48 398.1,440.26 400.1,440.03 402.1,439.85 404.1,439.81 406.1,439.88 408.1,440 410.1,440.15 412.1,440.29 414.1,440.39 416.1,440.42 418.1,440.37 420.1,440.24 422.1,440.07 424.1,439.88 426.1,439.69 428.1,439.52 430.1,439.4 432.1,439.33 434.1,439.27 436.1,439.22 438.1,439.17 440.1,439.12 442.1,439.07 444.1,439.01 446.1,438.93 448.1,438.84 450.1,438.75 452.1,438.64 454.1,438.53 456.1,438.42 456.9,438.37" fill="none" stroke="#8a8a8a" stroke-width="1"/>
<circle cx="112.6" cy="433.04" r="8.1" fill="#808080"/>
<circle cx="143.9" cy="431.61" r="8.1" fill="#808080"/>
<circle cx="173.3" cy="430.99" r="8.1" fill="#808080"/>
<circle cx="208.8" cy="430.99" r="8.1" fill="#808080"/>
<circle cx="273.6" cy="434.48" r="8.1" fill="#808080"/>
<circle cx="339.8" cy="439.4" r="8.1" fill="#808080"/>
<text transform="translate(110.3,451.48) scale(1,1.02)" font-size="15.3" fill="#fff" text-anchor="middle">4</text>
<text transform="translate(141.6,450.04) scale(1,1.02)" font-size="15.3" fill="#fff" text-anchor="middle">5</text>
<text transform="translate(171,449.42) scale(1,1.02)" font-size="15.3" fill="#fff" text-anchor="middle">6</text>
<text transform="translate(206.5,449.42) scale(1,1.02)" font-size="15.3" fill="#fff" text-anchor="middle">7</text>
<text transform="translate(273.6,452.91) scale(1,1.02)" font-size="15.3" fill="#fff" text-anchor="middle">8a</text>
<text transform="translate(337.5,457.83) scale(1,1.02)" font-size="15.3" fill="#fff" text-anchor="middle">9</text>
<polyline points="68.3,433.35 73.22,433.12 78.14,432.91 83.06,432.7 87.98,432.51 92.9,432.33 97.82,432.17 102.73,432.02 107.65,431.88 112.57,431.75 117.49,431.63 122.41,431.53 127.33,431.44 132.25,431.37 137.17,431.3 142.08,431.25 147,431.21 151.92,431.19 156.84,431.18 161.76,431.18 166.68,431.19 171.6,431.22 176.51,431.25 181.43,431.31 186.35,431.37 191.27,431.45 196.19,431.54 201.11,431.64 206.03,431.75 210.94,431.88 215.86,432.02 220.78,432.18 225.7,432.34 230.62,432.52 235.54,432.71 240.46,432.92 245.37,433.13 250.29,433.36 255.21,433.61 260.13,433.86 265.05,434.13 269.97,434.41 274.89,434.71 279.8,435.01 284.72,435.33 289.64,435.66 294.56,436.01 299.48,436.37 304.4,436.74 309.32,437.12 314.24,437.52 319.15,437.92 324.07,438.35 328.99,438.78 333.91,439.23 338.83,439.69 343.75,440.16 348.67,440.64 353.58,441.14 358.5,441.65 363.42,442.18 368.34,442.71 373.26,443.26 378.18,443.82 383.1,444.4 388.01,444.98 392.93,445.58 397.85,446.2 402.77,446.82 407.69,447.46 412.61,448.11 417.53,448.78 422.44,449.45 427.36,450.14 432.28,450.84 437.2,451.56 442.12,452.29 447.04,453.03 451.96,453.78 456.88,454.55" fill="none" stroke="#111" stroke-width="1.25"/>
<text transform="translate(60,521.7) scale(1,1.07)" font-size="15.3" fill="#000" text-anchor="middle">600</text>
<text transform="translate(141,521.7) scale(1,1.07)" font-size="15.3" fill="#000" text-anchor="middle">700</text>
<text transform="translate(222,521.7) scale(1,1.07)" font-size="15.3" fill="#000" text-anchor="middle">800</text>
<text transform="translate(303,521.7) scale(1,1.07)" font-size="15.3" fill="#000" text-anchor="middle">900</text>
<text transform="translate(384,521.7) scale(1,1.07)" font-size="15.3" fill="#000" text-anchor="middle">1000</text>
<text transform="translate(465,521.7) scale(1,1.07)" font-size="15.3" fill="#000" text-anchor="middle">1100</text>
<text transform="translate(262.7,538) scale(1,1.04)" font-size="15.3" fill="#000" text-anchor="middle">Wavelength (nm)</text>
<text transform="translate(55.8,405.8) scale(1,1.07)" font-size="15.3" fill="#000" text-anchor="end">0.3</text>
<text transform="translate(55.8,492.37) scale(1,1.07)" font-size="15.3" fill="#000" text-anchor="end">0.0</text>
<text transform="translate(22.6,449.3) rotate(-90) scale(1,1.04)" font-size="15.3" fill="#000" text-anchor="middle">Reflectance</text>
<text transform="translate(262.5,388.95)" font-size="19.35" fill="#000" text-anchor="middle">pigeonite</text>
</g>
<g>
<path d="M60,579.2 V684.4 H465 V579.2" fill="none" stroke="#1a1a1a" stroke-width="1.25" stroke-linejoin="miter"/>
<path d="M60,674.84 h8 M465,674.84 h-8 M60,655.71 h4 M465,655.71 h-4 M60,636.58 h4 M465,636.58 h-4 M60,617.45 h4 M465,617.45 h-4 M60,598.33 h4 M465,598.33 h-4 M60,579.2 h8 M465,579.2 h-8 M60,684.4 v-3.2 M68.1,684.4 v-1.8 M76.2,684.4 v-1.8 M84.3,684.4 v-1.8 M92.4,684.4 v-1.8 M100.5,684.4 v-1.8 M108.6,684.4 v-1.8 M116.7,684.4 v-1.8 M124.8,684.4 v-1.8 M132.9,684.4 v-1.8 M141,684.4 v-3.2 M149.1,684.4 v-1.8 M157.2,684.4 v-1.8 M165.3,684.4 v-1.8 M173.4,684.4 v-1.8 M181.5,684.4 v-1.8 M189.6,684.4 v-1.8 M197.7,684.4 v-1.8 M205.8,684.4 v-1.8 M213.9,684.4 v-1.8 M222,684.4 v-3.2 M230.1,684.4 v-1.8 M238.2,684.4 v-1.8 M246.3,684.4 v-1.8 M254.4,684.4 v-1.8 M262.5,684.4 v-1.8 M270.6,684.4 v-1.8 M278.7,684.4 v-1.8 M286.8,684.4 v-1.8 M294.9,684.4 v-1.8 M303,684.4 v-3.2 M311.1,684.4 v-1.8 M319.2,684.4 v-1.8 M327.3,684.4 v-1.8 M335.4,684.4 v-1.8 M343.5,684.4 v-1.8 M351.6,684.4 v-1.8 M359.7,684.4 v-1.8 M367.8,684.4 v-1.8 M375.9,684.4 v-1.8 M384,684.4 v-3.2 M392.1,684.4 v-1.8 M400.2,684.4 v-1.8 M408.3,684.4 v-1.8 M416.4,684.4 v-1.8 M424.5,684.4 v-1.8 M432.6,684.4 v-1.8 M440.7,684.4 v-1.8 M448.8,684.4 v-1.8 M456.9,684.4 v-1.8 M465,684.4 v-3.2" fill="none" stroke="#1a1a1a" stroke-width="1.2"/>
<polygon points="68.1,674.84 68.1,586.72 70.1,586.9 72.1,587.08 74.1,587.25 76.1,587.42 78.1,587.57 80.1,587.73 82.1,587.88 84.1,588.06 86.1,588.23 88.1,588.39 90.1,588.51 92.1,588.58 94.1,588.55 96.1,588.35 98.1,588.04 100.1,587.72 102.1,587.45 104.1,587.3 106.1,587.17 108.1,587.06 110.1,586.98 112.1,586.95 114.1,586.97 116.1,587.03 118.1,587.14 120.1,587.28 122.1,587.44 124.1,587.62 126.1,587.8 128.1,588.03 130.1,588.32 132.1,588.66 134.1,589.04 136.1,589.45 138.1,589.87 140.1,590.3 142.1,590.71 144.1,591.11 146.1,591.5 148.1,591.89 150.1,592.29 152.1,592.69 154.1,593.1 156.1,593.51 158.1,593.92 160.1,594.34 162.1,594.77 164.1,595.2 166.1,595.63 168.1,596.07 170.1,596.52 172.1,596.97 174.1,597.43 176.1,597.9 178.1,598.37 180.1,598.86 182.1,599.35 184.1,599.85 186.1,600.35 188.1,600.86 190.1,601.38 192.1,601.9 194.1,602.42 196.1,602.94 198.1,603.47 200.1,603.99 202.1,604.52 204.1,605.05 206.1,605.57 208.1,606.1 210.1,606.62 212.1,607.16 214.1,607.69 216.1,608.24 218.1,608.78 220.1,609.32 222.1,609.86 224.1,610.39 226.1,610.91 228.1,611.45 230.1,612.01 232.1,612.6 234.1,613.19 236.1,613.77 238.1,614.32 240.1,614.84 242.1,615.3 244.1,615.69 246.1,615.99 248.1,616.21 250.1,616.37 252.1,616.5 254.1,616.62 256.1,616.75 258.1,616.9 260.1,617.1 262.1,617.4 264.1,617.8 266.1,618.27 268.1,618.78 270.1,619.3 272.1,619.8 274.1,620.24 276.1,620.66 278.1,621.07 280.1,621.48 282.1,621.88 284.1,622.28 286.1,622.67 288.1,623.06 290.1,623.45 292.1,623.83 294.1,624.21 296.1,624.59 298.1,624.97 300.1,625.34 302.1,625.71 304.1,626.09 306.1,626.46 308.1,626.83 310.1,627.2 312.1,627.57 314.1,627.94 316.1,628.31 318.1,628.68 320.1,629.05 322.1,629.42 324.1,629.8 326.1,630.18 328.1,630.56 330.1,630.94 332.1,631.33 334.1,631.72 336.1,632.11 338.1,632.51 340.1,632.91 342.1,633.31 344.1,633.73 346.1,634.14 348.1,634.56 350.1,634.99 352.1,635.41 354.1,635.84 356.1,636.26 358.1,636.68 360.1,637.1 362.1,637.51 364.1,637.92 366.1,638.34 368.1,638.77 370.1,639.2 372.1,639.62 374.1,640.04 376.1,640.45 378.1,640.84 380.1,641.21 382.1,641.55 384.1,641.87 386.1,642.18 388.1,642.49 390.1,642.79 392.1,643.08 394.1,643.36 396.1,643.62 398.1,643.86 400.1,644.07 402.1,644.25 404.1,644.41 406.1,644.55 408.1,644.69 410.1,644.83 412.1,644.96 414.1,645.08 416.1,645.19 418.1,645.27 420.1,645.34 422.1,645.38 424.1,645.39 426.1,645.38 428.1,645.33 430.1,645.27 432.1,645.19 434.1,645.1 436.1,645 438.1,644.89 440.1,644.79 442.1,644.7 444.1,644.59 446.1,644.48 448.1,644.36 450.1,644.23 452.1,644.1 454.1,643.96 456.1,643.81 456.9,643.75 456.9,674.84" fill="#c0c0c0"/>
<polyline points="68.1,586.72 70.1,586.9 72.1,587.08 74.1,587.25 76.1,587.42 78.1,587.57 80.1,587.73 82.1,587.88 84.1,588.06 86.1,588.23 88.1,588.39 90.1,588.51 92.1,588.58 94.1,588.55 96.1,588.35 98.1,588.04 100.1,587.72 102.1,587.45 104.1,587.3 106.1,587.17 108.1,587.06 110.1,586.98 112.1,586.95 114.1,586.97 116.1,587.03 118.1,587.14 120.1,587.28 122.1,587.44 124.1,587.62 126.1,587.8 128.1,588.03 130.1,588.32 132.1,588.66 134.1,589.04 136.1,589.45 138.1,589.87 140.1,590.3 142.1,590.71 144.1,591.11 146.1,591.5 148.1,591.89 150.1,592.29 152.1,592.69 154.1,593.1 156.1,593.51 158.1,593.92 160.1,594.34 162.1,594.77 164.1,595.2 166.1,595.63 168.1,596.07 170.1,596.52 172.1,596.97 174.1,597.43 176.1,597.9 178.1,598.37 180.1,598.86 182.1,599.35 184.1,599.85 186.1,600.35 188.1,600.86 190.1,601.38 192.1,601.9 194.1,602.42 196.1,602.94 198.1,603.47 200.1,603.99 202.1,604.52 204.1,605.05 206.1,605.57 208.1,606.1 210.1,606.62 212.1,607.16 214.1,607.69 216.1,608.24 218.1,608.78 220.1,609.32 222.1,609.86 224.1,610.39 226.1,610.91 228.1,611.45 230.1,612.01 232.1,612.6 234.1,613.19 236.1,613.77 238.1,614.32 240.1,614.84 242.1,615.3 244.1,615.69 246.1,615.99 248.1,616.21 250.1,616.37 252.1,616.5 254.1,616.62 256.1,616.75 258.1,616.9 260.1,617.1 262.1,617.4 264.1,617.8 266.1,618.27 268.1,618.78 270.1,619.3 272.1,619.8 274.1,620.24 276.1,620.66 278.1,621.07 280.1,621.48 282.1,621.88 284.1,622.28 286.1,622.67 288.1,623.06 290.1,623.45 292.1,623.83 294.1,624.21 296.1,624.59 298.1,624.97 300.1,625.34 302.1,625.71 304.1,626.09 306.1,626.46 308.1,626.83 310.1,627.2 312.1,627.57 314.1,627.94 316.1,628.31 318.1,628.68 320.1,629.05 322.1,629.42 324.1,629.8 326.1,630.18 328.1,630.56 330.1,630.94 332.1,631.33 334.1,631.72 336.1,632.11 338.1,632.51 340.1,632.91 342.1,633.31 344.1,633.73 346.1,634.14 348.1,634.56 350.1,634.99 352.1,635.41 354.1,635.84 356.1,636.26 358.1,636.68 360.1,637.1 362.1,637.51 364.1,637.92 366.1,638.34 368.1,638.77 370.1,639.2 372.1,639.62 374.1,640.04 376.1,640.45 378.1,640.84 380.1,641.21 382.1,641.55 384.1,641.87 386.1,642.18 388.1,642.49 390.1,642.79 392.1,643.08 394.1,643.36 396.1,643.62 398.1,643.86 400.1,644.07 402.1,644.25 404.1,644.41 406.1,644.55 408.1,644.69 410.1,644.83 412.1,644.96 414.1,645.08 416.1,645.19 418.1,645.27 420.1,645.34 422.1,645.38 424.1,645.39 426.1,645.38 428.1,645.33 430.1,645.27 432.1,645.19 434.1,645.1 436.1,645 438.1,644.89 440.1,644.79 442.1,644.7 444.1,644.59 446.1,644.48 448.1,644.36 450.1,644.23 452.1,644.1 454.1,643.96 456.1,643.81 456.9,643.75" fill="none" stroke="#8a8a8a" stroke-width="1"/>
<circle cx="112.6" cy="587.77" r="8.1" fill="#808080"/>
<circle cx="143.9" cy="590.43" r="8.1" fill="#808080"/>
<circle cx="173.3" cy="596.58" r="8.1" fill="#808080"/>
<circle cx="208.8" cy="606.84" r="8.1" fill="#808080"/>
<circle cx="273.6" cy="619.76" r="8.1" fill="#808080"/>
<circle cx="339.8" cy="632.47" r="8.1" fill="#808080"/>
<text transform="translate(110.3,607.29) scale(1,1.02)" font-size="15.3" fill="#fff" text-anchor="middle">4</text>
<text transform="translate(141.6,609.96) scale(1,1.02)" font-size="15.3" fill="#fff" text-anchor="middle">5</text>
<text transform="translate(171,616.11) scale(1,1.02)" font-size="15.3" fill="#fff" text-anchor="middle">6</text>
<text transform="translate(206.5,626.37) scale(1,1.02)" font-size="15.3" fill="#fff" text-anchor="middle">7</text>
<text transform="translate(273.6,639.29) scale(1,1.02)" font-size="15.3" fill="#fff" text-anchor="middle">8a</text>
<text transform="translate(337.5,652) scale(1,1.02)" font-size="15.3" fill="#fff" text-anchor="middle">9</text>
<polyline points="107.27,579.77 111.69,581.02 116.12,582.26 120.55,583.49 124.97,584.72 129.4,585.93 133.82,587.14 138.25,588.33 142.67,589.52 147.1,590.69 151.52,591.86 155.95,593.01 160.37,594.16 164.8,595.3 169.22,596.43 173.65,597.55 178.08,598.65 182.5,599.75 186.93,600.84 191.35,601.92 195.78,603 200.2,604.06 204.63,605.11 209.05,606.15 213.48,607.18 217.9,608.21 222.33,609.22 226.75,610.22 231.18,611.22 235.61,612.2 240.03,613.18 244.46,614.14 248.88,615.1 253.31,616.04 257.73,616.98 262.16,617.91 266.58,618.83 271.01,619.74 275.43,620.63 279.86,621.52 284.28,622.4 288.71,623.27 293.14,624.13 297.56,624.98 301.99,625.83 306.41,626.66 310.84,627.48 315.26,628.29 319.69,629.1 324.11,629.89 328.54,630.67 332.96,631.45 337.39,632.21 341.81,632.97 346.24,633.72 350.67,634.45 355.09,635.18 359.52,635.9 363.94,636.6 368.37,637.3 372.79,637.99 377.22,638.67 381.64,639.34 386.07,640 390.49,640.65 394.92,641.29 399.34,641.92 403.77,642.54 408.2,643.15 412.62,643.76 417.05,644.35 421.47,644.93 425.9,645.51 430.32,646.07 434.75,646.63 439.17,647.17 443.6,647.71 448.02,648.23 452.45,648.75 456.88,649.26" fill="none" stroke="#111" stroke-width="1.25"/>
<text transform="translate(60,704.2) scale(1,1.07)" font-size="15.3" fill="#000" text-anchor="middle">600</text>
<text transform="translate(141,704.2) scale(1,1.07)" font-size="15.3" fill="#000" text-anchor="middle">700</text>
<text transform="translate(222,704.2) scale(1,1.07)" font-size="15.3" fill="#000" text-anchor="middle">800</text>
<text transform="translate(303,704.2) scale(1,1.07)" font-size="15.3" fill="#000" text-anchor="middle">900</text>
<text transform="translate(384,704.2) scale(1,1.07)" font-size="15.3" fill="#000" text-anchor="middle">1000</text>
<text transform="translate(465,704.2) scale(1,1.07)" font-size="15.3" fill="#000" text-anchor="middle">1100</text>
<text transform="translate(262.7,720.5) scale(1,1.04)" font-size="15.3" fill="#000" text-anchor="middle">Wavelength (nm)</text>
<text transform="translate(55.8,588.3) scale(1,1.07)" font-size="15.3" fill="#000" text-anchor="end">0.5</text>
<text transform="translate(55.8,680.34) scale(1,1.07)" font-size="15.3" fill="#000" text-anchor="end">0.0</text>
<text transform="translate(22.6,631.8) rotate(-90) scale(1,1.04)" font-size="15.3" fill="#000" text-anchor="middle">Reflectance</text>
<text transform="translate(262.5,571.45)" font-size="19.35" fill="#000" text-anchor="middle">olivine</text>
</g>
<g>
<path d="M60,761.7 V866.9 H465 V761.7" fill="none" stroke="#1a1a1a" stroke-width="1.25" stroke-linejoin="miter"/>
<path d="M60,860.71 h8 M465,860.71 h-8 M60,850.81 h4 M465,850.81 h-4 M60,840.91 h4 M465,840.91 h-4 M60,831.01 h4 M465,831.01 h-4 M60,821.11 h4 M465,821.11 h-4 M60,811.21 h4 M465,811.21 h-4 M60,801.3 h4 M465,801.3 h-4 M60,791.4 h4 M465,791.4 h-4 M60,781.5 h4 M465,781.5 h-4 M60,771.6 h4 M465,771.6 h-4 M60,761.7 h8 M465,761.7 h-8 M60,866.9 v-3.2 M68.1,866.9 v-1.8 M76.2,866.9 v-1.8 M84.3,866.9 v-1.8 M92.4,866.9 v-1.8 M100.5,866.9 v-1.8 M108.6,866.9 v-1.8 M116.7,866.9 v-1.8 M124.8,866.9 v-1.8 M132.9,866.9 v-1.8 M141,866.9 v-3.2 M149.1,866.9 v-1.8 M157.2,866.9 v-1.8 M165.3,866.9 v-1.8 M173.4,866.9 v-1.8 M181.5,866.9 v-1.8 M189.6,866.9 v-1.8 M197.7,866.9 v-1.8 M205.8,866.9 v-1.8 M213.9,866.9 v-1.8 M222,866.9 v-3.2 M230.1,866.9 v-1.8 M238.2,866.9 v-1.8 M246.3,866.9 v-1.8 M254.4,866.9 v-1.8 M262.5,866.9 v-1.8 M270.6,866.9 v-1.8 M278.7,866.9 v-1.8 M286.8,866.9 v-1.8 M294.9,866.9 v-1.8 M303,866.9 v-3.2 M311.1,866.9 v-1.8 M319.2,866.9 v-1.8 M327.3,866.9 v-1.8 M335.4,866.9 v-1.8 M343.5,866.9 v-1.8 M351.6,866.9 v-1.8 M359.7,866.9 v-1.8 M367.8,866.9 v-1.8 M375.9,866.9 v-1.8 M384,866.9 v-3.2 M392.1,866.9 v-1.8 M400.2,866.9 v-1.8 M408.3,866.9 v-1.8 M416.4,866.9 v-1.8 M424.5,866.9 v-1.8 M432.6,866.9 v-1.8 M440.7,866.9 v-1.8 M448.8,866.9 v-1.8 M456.9,866.9 v-1.8 M465,866.9 v-3.2" fill="none" stroke="#1a1a1a" stroke-width="1.2"/>
<polygon points="68.1,860.71 68.1,811.86 70.1,811.13 72.1,810.41 74.1,809.68 76.1,808.94 78.1,808.21 80.1,807.46 82.1,806.7 84.1,805.91 86.1,805.1 88.1,804.27 90.1,803.42 92.1,802.57 94.1,801.72 96.1,800.87 98.1,800.04 100.1,799.22 102.1,798.43 104.1,797.67 106.1,796.95 108.1,796.26 110.1,795.63 112.1,795.05 114.1,794.52 116.1,794.02 118.1,793.55 120.1,793.11 122.1,792.69 124.1,792.28 126.1,791.89 128.1,791.51 130.1,791.14 132.1,790.76 134.1,790.39 136.1,790 138.1,789.61 140.1,789.2 142.1,788.78 144.1,788.33 146.1,787.86 148.1,787.37 150.1,786.87 152.1,786.36 154.1,785.83 156.1,785.31 158.1,784.78 160.1,784.25 162.1,783.72 164.1,783.2 166.1,782.69 168.1,782.2 170.1,781.71 172.1,781.25 174.1,780.79 176.1,780.32 178.1,779.83 180.1,779.34 182.1,778.85 184.1,778.38 186.1,777.94 188.1,777.53 190.1,777.17 192.1,776.86 194.1,776.62 196.1,776.46 198.1,776.35 200.1,776.25 202.1,776.18 204.1,776.1 206.1,776.02 208.1,775.92 210.1,775.79 212.1,775.64 214.1,775.46 216.1,775.27 218.1,775.07 220.1,774.87 222.1,774.68 224.1,774.49 226.1,774.32 228.1,774.17 230.1,774.06 232.1,773.96 234.1,773.87 236.1,773.77 238.1,773.69 240.1,773.61 242.1,773.54 244.1,773.49 246.1,773.45 248.1,773.43 250.1,773.45 252.1,773.55 254.1,773.68 256.1,773.84 258.1,773.97 260.1,774.05 262.1,774.09 264.1,774.12 266.1,774.14 268.1,774.17 270.1,774.19 272.1,774.22 274.1,774.26 276.1,774.31 278.1,774.38 280.1,774.46 282.1,774.56 284.1,774.66 286.1,774.78 288.1,774.91 290.1,775.04 292.1,775.19 294.1,775.34 296.1,775.5 298.1,775.67 300.1,775.84 302.1,776.01 304.1,776.19 306.1,776.37 308.1,776.55 310.1,776.73 312.1,776.91 314.1,777.1 316.1,777.28 318.1,777.45 320.1,777.63 322.1,777.79 324.1,777.96 326.1,778.12 328.1,778.27 330.1,778.41 332.1,778.54 334.1,778.67 336.1,778.78 338.1,778.88 340.1,778.97 342.1,779.05 344.1,779.12 346.1,779.18 348.1,779.23 350.1,779.29 352.1,779.34 354.1,779.41 356.1,779.48 358.1,779.57 360.1,779.67 362.1,779.81 364.1,779.96 366.1,780.14 368.1,780.33 370.1,780.53 372.1,780.73 374.1,780.94 376.1,781.15 378.1,781.38 380.1,781.61 382.1,781.86 384.1,782.11 386.1,782.38 388.1,782.65 390.1,782.93 392.1,783.22 394.1,783.51 396.1,783.8 398.1,784.1 400.1,784.4 402.1,784.7 404.1,785.01 406.1,785.32 408.1,785.64 410.1,785.98 412.1,786.32 414.1,786.67 416.1,787.04 418.1,787.42 420.1,787.82 422.1,788.23 424.1,788.68 426.1,789.14 428.1,789.62 430.1,790.13 432.1,790.64 434.1,791.17 436.1,791.71 438.1,792.26 440.1,792.81 442.1,793.38 444.1,793.96 446.1,794.56 448.1,795.17 450.1,795.8 452.1,796.45 454.1,797.11 456.1,797.78 456.9,798.05 456.9,860.71" fill="#c0c0c0"/>
<polyline points="68.1,811.86 70.1,811.13 72.1,810.41 74.1,809.68 76.1,808.94 78.1,808.21 80.1,807.46 82.1,806.7 84.1,805.91 86.1,805.1 88.1,804.27 90.1,803.42 92.1,802.57 94.1,801.72 96.1,800.87 98.1,800.04 100.1,799.22 102.1,798.43 104.1,797.67 106.1,796.95 108.1,796.26 110.1,795.63 112.1,795.05 114.1,794.52 116.1,794.02 118.1,793.55 120.1,793.11 122.1,792.69 124.1,792.28 126.1,791.89 128.1,791.51 130.1,791.14 132.1,790.76 134.1,790.39 136.1,790 138.1,789.61 140.1,789.2 142.1,788.78 144.1,788.33 146.1,787.86 148.1,787.37 150.1,786.87 152.1,786.36 154.1,785.83 156.1,785.31 158.1,784.78 160.1,784.25 162.1,783.72 164.1,783.2 166.1,782.69 168.1,782.2 170.1,781.71 172.1,781.25 174.1,780.79 176.1,780.32 178.1,779.83 180.1,779.34 182.1,778.85 184.1,778.38 186.1,777.94 188.1,777.53 190.1,777.17 192.1,776.86 194.1,776.62 196.1,776.46 198.1,776.35 200.1,776.25 202.1,776.18 204.1,776.1 206.1,776.02 208.1,775.92 210.1,775.79 212.1,775.64 214.1,775.46 216.1,775.27 218.1,775.07 220.1,774.87 222.1,774.68 224.1,774.49 226.1,774.32 228.1,774.17 230.1,774.06 232.1,773.96 234.1,773.87 236.1,773.77 238.1,773.69 240.1,773.61 242.1,773.54 244.1,773.49 246.1,773.45 248.1,773.43 250.1,773.45 252.1,773.55 254.1,773.68 256.1,773.84 258.1,773.97 260.1,774.05 262.1,774.09 264.1,774.12 266.1,774.14 268.1,774.17 270.1,774.19 272.1,774.22 274.1,774.26 276.1,774.31 278.1,774.38 280.1,774.46 282.1,774.56 284.1,774.66 286.1,774.78 288.1,774.91 290.1,775.04 292.1,775.19 294.1,775.34 296.1,775.5 298.1,775.67 300.1,775.84 302.1,776.01 304.1,776.19 306.1,776.37 308.1,776.55 310.1,776.73 312.1,776.91 314.1,777.1 316.1,777.28 318.1,777.45 320.1,777.63 322.1,777.79 324.1,777.96 326.1,778.12 328.1,778.27 330.1,778.41 332.1,778.54 334.1,778.67 336.1,778.78 338.1,778.88 340.1,778.97 342.1,779.05 344.1,779.12 346.1,779.18 348.1,779.23 350.1,779.29 352.1,779.34 354.1,779.41 356.1,779.48 358.1,779.57 360.1,779.67 362.1,779.81 364.1,779.96 366.1,780.14 368.1,780.33 370.1,780.53 372.1,780.73 374.1,780.94 376.1,781.15 378.1,781.38 380.1,781.61 382.1,781.86 384.1,782.11 386.1,782.38 388.1,782.65 390.1,782.93 392.1,783.22 394.1,783.51 396.1,783.8 398.1,784.1 400.1,784.4 402.1,784.7 404.1,785.01 406.1,785.32 408.1,785.64 410.1,785.98 412.1,786.32 414.1,786.67 416.1,787.04 418.1,787.42 420.1,787.82 422.1,788.23 424.1,788.68 426.1,789.14 428.1,789.62 430.1,790.13 432.1,790.64 434.1,791.17 436.1,791.71 438.1,792.26 440.1,792.81 442.1,793.38 444.1,793.96 446.1,794.56 448.1,795.17 450.1,795.8 452.1,796.45 454.1,797.11 456.1,797.78 456.9,798.05" fill="none" stroke="#8a8a8a" stroke-width="1"/>
<circle cx="112.6" cy="796.61" r="8.1" fill="#808080"/>
<circle cx="143.9" cy="789.22" r="8.1" fill="#808080"/>
<circle cx="173.3" cy="781.02" r="8.1" fill="#808080"/>
<circle cx="208.8" cy="775.48" r="8.1" fill="#808080"/>
<circle cx="273.6" cy="774.05" r="8.1" fill="#808080"/>
<circle cx="339.8" cy="778.56" r="8.1" fill="#808080"/>
<text transform="translate(110.3,816.81) scale(1,1.02)" font-size="15.3" fill="#fff" text-anchor="middle">4</text>
<text transform="translate(141.6,809.43) scale(1,1.02)" font-size="15.3" fill="#fff" text-anchor="middle">5</text>
<text transform="translate(171,801.22) scale(1,1.02)" font-size="15.3" fill="#fff" text-anchor="middle">6</text>
<text transform="translate(206.5,795.68) scale(1,1.02)" font-size="15.3" fill="#fff" text-anchor="middle">7</text>
<text transform="translate(273.6,794.25) scale(1,1.02)" font-size="15.3" fill="#fff" text-anchor="middle">8a</text>
<text transform="translate(337.5,798.76) scale(1,1.02)" font-size="15.3" fill="#fff" text-anchor="middle">9</text>
<polyline points="68.3,806 73.22,804.41 78.14,802.85 83.06,801.34 87.98,799.87 92.9,798.44 97.82,797.05 102.73,795.7 107.65,794.39 112.57,793.12 117.49,791.89 122.41,790.7 127.33,789.55 132.25,788.45 137.17,787.38 142.08,786.36 147,785.37 151.92,784.43 156.84,783.52 161.76,782.66 166.68,781.84 171.6,781.06 176.51,780.32 181.43,779.62 186.35,778.96 191.27,778.34 196.19,777.76 201.11,777.22 206.03,776.72 210.94,776.27 215.86,775.85 220.78,775.47 225.7,775.14 230.62,774.85 235.54,774.59 240.46,774.38 245.37,774.21 250.29,774.08 255.21,773.98 260.13,773.93 265.05,773.92 269.97,773.96 274.89,774.03 279.8,774.14 284.72,774.29 289.64,774.48 294.56,774.72 299.48,774.99 304.4,775.31 309.32,775.66 314.24,776.06 319.15,776.5 324.07,776.98 328.99,777.49 333.91,778.05 338.83,778.65 343.75,779.29 348.67,779.97 353.58,780.69 358.5,781.46 363.42,782.26 368.34,783.1 373.26,783.99 378.18,784.91 383.1,785.88 388.01,786.88 392.93,787.93 397.85,789.02 402.77,790.14 407.69,791.31 412.61,792.52 417.53,793.77 422.44,795.06 427.36,796.39 432.28,797.76 437.2,799.17 442.12,800.63 447.04,802.12 451.96,803.65 456.88,805.23" fill="none" stroke="#111" stroke-width="1.25"/>
<text transform="translate(60,886.7) scale(1,1.07)" font-size="15.3" fill="#000" text-anchor="middle">600</text>
<text transform="translate(141,886.7) scale(1,1.07)" font-size="15.3" fill="#000" text-anchor="middle">700</text>
<text transform="translate(222,886.7) scale(1,1.07)" font-size="15.3" fill="#000" text-anchor="middle">800</text>
<text transform="translate(303,886.7) scale(1,1.07)" font-size="15.3" fill="#000" text-anchor="middle">900</text>
<text transform="translate(384,886.7) scale(1,1.07)" font-size="15.3" fill="#000" text-anchor="middle">1000</text>
<text transform="translate(465,886.7) scale(1,1.07)" font-size="15.3" fill="#000" text-anchor="middle">1100</text>
<text transform="translate(262.7,903) scale(1,1.04)" font-size="15.3" fill="#000" text-anchor="middle">Wavelength (nm)</text>
<text transform="translate(55.8,770.8) scale(1,1.07)" font-size="15.3" fill="#000" text-anchor="end">0.8</text>
<text transform="translate(55.8,866.21) scale(1,1.07)" font-size="15.3" fill="#000" text-anchor="end">0.0</text>
<text transform="translate(22.6,814.3) rotate(-90) scale(1,1.04)" font-size="15.3" fill="#000" text-anchor="middle">Reflectance</text>
<text transform="translate(262.5,753.95)" font-size="19.35" fill="#000" text-anchor="middle">spessartine</text>
</g>
<g>
<path d="M60,944.2 V1049.4 H465 V944.2" fill="none" stroke="#1a1a1a" stroke-width="1.25" stroke-linejoin="miter"/>
<path d="M60,1034.37 h8 M465,1034.37 h-8 M60,1011.83 h4 M465,1011.83 h-4 M60,989.29 h4 M465,989.29 h-4 M60,966.74 h4 M465,966.74 h-4 M60,944.2 h8 M465,944.2 h-8 M60,1049.4 v-3.2 M68.1,1049.4 v-1.8 M76.2,1049.4 v-1.8 M84.3,1049.4 v-1.8 M92.4,1049.4 v-1.8 M100.5,1049.4 v-1.8 M108.6,1049.4 v-1.8 M116.7,1049.4 v-1.8 M124.8,1049.4 v-1.8 M132.9,1049.4 v-1.8 M141,1049.4 v-3.2 M149.1,1049.4 v-1.8 M157.2,1049.4 v-1.8 M165.3,1049.4 v-1.8 M173.4,1049.4 v-1.8 M181.5,1049.4 v-1.8 M189.6,1049.4 v-1.8 M197.7,1049.4 v-1.8 M205.8,1049.4 v-1.8 M213.9,1049.4 v-1.8 M222,1049.4 v-3.2 M230.1,1049.4 v-1.8 M238.2,1049.4 v-1.8 M246.3,1049.4 v-1.8 M254.4,1049.4 v-1.8 M262.5,1049.4 v-1.8 M270.6,1049.4 v-1.8 M278.7,1049.4 v-1.8 M286.8,1049.4 v-1.8 M294.9,1049.4 v-1.8 M303,1049.4 v-3.2 M311.1,1049.4 v-1.8 M319.2,1049.4 v-1.8 M327.3,1049.4 v-1.8 M335.4,1049.4 v-1.8 M343.5,1049.4 v-1.8 M351.6,1049.4 v-1.8 M359.7,1049.4 v-1.8 M367.8,1049.4 v-1.8 M375.9,1049.4 v-1.8 M384,1049.4 v-3.2 M392.1,1049.4 v-1.8 M400.2,1049.4 v-1.8 M408.3,1049.4 v-1.8 M416.4,1049.4 v-1.8 M424.5,1049.4 v-1.8 M432.6,1049.4 v-1.8 M440.7,1049.4 v-1.8 M448.8,1049.4 v-1.8 M456.9,1049.4 v-1.8 M465,1049.4 v-3.2" fill="none" stroke="#1a1a1a" stroke-width="1.2"/>
<polygon points="68.1,1034.37 68.1,985.61 70.1,985.28 72.1,984.95 74.1,984.63 76.1,984.31 78.1,983.99 80.1,983.68 82.1,983.38 84.1,983.08 86.1,982.79 88.1,982.5 90.1,982.22 92.1,981.94 94.1,981.66 96.1,981.4 98.1,981.14 100.1,980.88 102.1,980.63 104.1,980.38 106.1,980.14 108.1,979.91 110.1,979.68 112.1,979.46 114.1,979.24 116.1,979.03 118.1,978.83 120.1,978.63 122.1,978.43 124.1,978.24 126.1,978.05 128.1,977.87 130.1,977.69 132.1,977.52 134.1,977.35 136.1,977.18 138.1,977.01 140.1,976.85 142.1,976.69 144.1,976.53 146.1,976.37 148.1,976.22 150.1,976.07 152.1,975.92 154.1,975.78 156.1,975.64 158.1,975.5 160.1,975.36 162.1,975.22 164.1,975.09 166.1,974.96 168.1,974.82 170.1,974.7 172.1,974.57 174.1,974.44 176.1,974.31 178.1,974.19 180.1,974.06 182.1,973.94 184.1,973.81 186.1,973.69 188.1,973.57 190.1,973.45 192.1,973.33 194.1,973.21 196.1,973.1 198.1,972.99 200.1,972.88 202.1,972.77 204.1,972.67 206.1,972.57 208.1,972.48 210.1,972.38 212.1,972.29 214.1,972.2 216.1,972.11 218.1,972.03 220.1,971.94 222.1,971.86 224.1,971.78 226.1,971.7 228.1,971.62 230.1,971.55 232.1,971.48 234.1,971.41 236.1,971.35 238.1,971.29 240.1,971.24 242.1,971.18 244.1,971.13 246.1,971.09 248.1,971.04 250.1,971 252.1,970.96 254.1,970.92 256.1,970.88 258.1,970.85 260.1,970.81 262.1,970.77 264.1,970.73 266.1,970.69 268.1,970.66 270.1,970.63 272.1,970.61 274.1,970.61 276.1,970.61 278.1,970.63 280.1,970.66 282.1,970.69 284.1,970.73 286.1,970.78 288.1,970.83 290.1,970.89 292.1,970.95 294.1,971.02 296.1,971.1 298.1,971.17 300.1,971.25 302.1,971.33 304.1,971.42 306.1,971.5 308.1,971.58 310.1,971.67 312.1,971.75 314.1,971.83 316.1,971.91 318.1,971.98 320.1,972.05 322.1,972.12 324.1,972.19 326.1,972.24 328.1,972.3 330.1,972.34 332.1,972.38 334.1,972.41 336.1,972.43 338.1,972.45 340.1,972.45 342.1,972.45 344.1,972.45 346.1,972.45 348.1,972.45 350.1,972.45 352.1,972.45 354.1,972.45 356.1,972.45 358.1,972.45 360.1,972.45 362.1,972.45 364.1,972.45 366.1,972.45 368.1,972.45 370.1,972.45 372.1,972.45 374.1,972.45 376.1,972.45 378.1,972.45 380.1,972.45 382.1,972.45 384.1,972.45 386.1,972.45 388.1,972.46 390.1,972.5 392.1,972.59 394.1,972.7 396.1,972.82 398.1,972.96 400.1,973.09 402.1,973.2 404.1,973.3 406.1,973.38 408.1,973.45 410.1,973.53 412.1,973.6 414.1,973.67 416.1,973.74 418.1,973.82 420.1,973.89 422.1,973.97 424.1,974.05 426.1,974.12 428.1,974.2 430.1,974.28 432.1,974.38 434.1,974.49 436.1,974.65 438.1,974.87 440.1,975.14 442.1,975.41 444.1,975.65 446.1,975.84 448.1,975.93 450.1,975.93 452.1,975.87 454.1,975.77 456.1,975.61 456.9,975.53 456.9,1034.37" fill="#c0c0c0"/>
<polyline points="68.1,985.61 70.1,985.28 72.1,984.95 74.1,984.63 76.1,984.31 78.1,983.99 80.1,983.68 82.1,983.38 84.1,983.08 86.1,982.79 88.1,982.5 90.1,982.22 92.1,981.94 94.1,981.66 96.1,981.4 98.1,981.14 100.1,980.88 102.1,980.63 104.1,980.38 106.1,980.14 108.1,979.91 110.1,979.68 112.1,979.46 114.1,979.24 116.1,979.03 118.1,978.83 120.1,978.63 122.1,978.43 124.1,978.24 126.1,978.05 128.1,977.87 130.1,977.69 132.1,977.52 134.1,977.35 136.1,977.18 138.1,977.01 140.1,976.85 142.1,976.69 144.1,976.53 146.1,976.37 148.1,976.22 150.1,976.07 152.1,975.92 154.1,975.78 156.1,975.64 158.1,975.5 160.1,975.36 162.1,975.22 164.1,975.09 166.1,974.96 168.1,974.82 170.1,974.7 172.1,974.57 174.1,974.44 176.1,974.31 178.1,974.19 180.1,974.06 182.1,973.94 184.1,973.81 186.1,973.69 188.1,973.57 190.1,973.45 192.1,973.33 194.1,973.21 196.1,973.1 198.1,972.99 200.1,972.88 202.1,972.77 204.1,972.67 206.1,972.57 208.1,972.48 210.1,972.38 212.1,972.29 214.1,972.2 216.1,972.11 218.1,972.03 220.1,971.94 222.1,971.86 224.1,971.78 226.1,971.7 228.1,971.62 230.1,971.55 232.1,971.48 234.1,971.41 236.1,971.35 238.1,971.29 240.1,971.24 242.1,971.18 244.1,971.13 246.1,971.09 248.1,971.04 250.1,971 252.1,970.96 254.1,970.92 256.1,970.88 258.1,970.85 260.1,970.81 262.1,970.77 264.1,970.73 266.1,970.69 268.1,970.66 270.1,970.63 272.1,970.61 274.1,970.61 276.1,970.61 278.1,970.63 280.1,970.66 282.1,970.69 284.1,970.73 286.1,970.78 288.1,970.83 290.1,970.89 292.1,970.95 294.1,971.02 296.1,971.1 298.1,971.17 300.1,971.25 302.1,971.33 304.1,971.42 306.1,971.5 308.1,971.58 310.1,971.67 312.1,971.75 314.1,971.83 316.1,971.91 318.1,971.98 320.1,972.05 322.1,972.12 324.1,972.19 326.1,972.24 328.1,972.3 330.1,972.34 332.1,972.38 334.1,972.41 336.1,972.43 338.1,972.45 340.1,972.45 342.1,972.45 344.1,972.45 346.1,972.45 348.1,972.45 350.1,972.45 352.1,972.45 354.1,972.45 356.1,972.45 358.1,972.45 360.1,972.45 362.1,972.45 364.1,972.45 366.1,972.45 368.1,972.45 370.1,972.45 372.1,972.45 374.1,972.45 376.1,972.45 378.1,972.45 380.1,972.45 382.1,972.45 384.1,972.45 386.1,972.45 388.1,972.46 390.1,972.5 392.1,972.59 394.1,972.7 396.1,972.82 398.1,972.96 400.1,973.09 402.1,973.2 404.1,973.3 406.1,973.38 408.1,973.45 410.1,973.53 412.1,973.6 414.1,973.67 416.1,973.74 418.1,973.82 420.1,973.89 422.1,973.97 424.1,974.05 426.1,974.12 428.1,974.2 430.1,974.28 432.1,974.38 434.1,974.49 436.1,974.65 438.1,974.87 440.1,975.14 442.1,975.41 444.1,975.65 446.1,975.84 448.1,975.93 450.1,975.93 452.1,975.87 454.1,975.77 456.1,975.61 456.9,975.53" fill="none" stroke="#8a8a8a" stroke-width="1"/>
<circle cx="112.6" cy="980.04" r="8.1" fill="#808080"/>
<circle cx="143.9" cy="976.55" r="8.1" fill="#808080"/>
<circle cx="173.3" cy="974.3" r="8.1" fill="#808080"/>
<circle cx="208.8" cy="972.66" r="8.1" fill="#808080"/>
<circle cx="273.6" cy="970.81" r="8.1" fill="#808080"/>
<circle cx="339.8" cy="972.25" r="8.1" fill="#808080"/>
<text transform="translate(110.3,998.48) scale(1,1.02)" font-size="15.3" fill="#fff" text-anchor="middle">4</text>
<text transform="translate(141.6,994.99) scale(1,1.02)" font-size="15.3" fill="#fff" text-anchor="middle">5</text>
<text transform="translate(171,992.73) scale(1,1.02)" font-size="15.3" fill="#fff" text-anchor="middle">6</text>
<text transform="translate(206.5,991.09) scale(1,1.02)" font-size="15.3" fill="#fff" text-anchor="middle">7</text>
<text transform="translate(273.6,989.25) scale(1,1.02)" font-size="15.3" fill="#fff" text-anchor="middle">8a</text>
<text transform="translate(337.5,990.68) scale(1,1.02)" font-size="15.3" fill="#fff" text-anchor="middle">9</text>
<polyline points="68.3,984.89 73.22,984.22 78.14,983.56 83.06,982.92 87.98,982.3 92.9,981.69 97.82,981.1 102.73,980.53 107.65,979.97 112.57,979.43 117.49,978.9 122.41,978.39 127.33,977.9 132.25,977.42 137.17,976.97 142.08,976.52 147,976.1 151.92,975.69 156.84,975.29 161.76,974.92 166.68,974.56 171.6,974.21 176.51,973.89 181.43,973.57 186.35,973.28 191.27,973 196.19,972.74 201.11,972.5 206.03,972.27 210.94,972.05 215.86,971.86 220.78,971.68 225.7,971.52 230.62,971.37 235.54,971.24 240.46,971.13 245.37,971.03 250.29,970.95 255.21,970.89 260.13,970.84 265.05,970.81 269.97,970.79 274.89,970.79 279.8,970.81 284.72,970.85 289.64,970.9 294.56,970.97 299.48,971.05 304.4,971.15 309.32,971.27 314.24,971.4 319.15,971.55 324.07,971.72 328.99,971.9 333.91,972.1 338.83,972.32 343.75,972.55 348.67,972.8 353.58,973.06 358.5,973.34 363.42,973.64 368.34,973.96 373.26,974.29 378.18,974.64 383.1,975 388.01,975.38 392.93,975.78 397.85,976.19 402.77,976.62 407.69,977.07 412.61,977.53 417.53,978.01 422.44,978.5 427.36,979.02 432.28,979.55 437.2,980.09 442.12,980.65 447.04,981.23 451.96,981.82 456.88,982.44" fill="none" stroke="#111" stroke-width="1.25"/>
<text transform="translate(60,1069.2) scale(1,1.07)" font-size="15.3" fill="#000" text-anchor="middle">600</text>
<text transform="translate(141,1069.2) scale(1,1.07)" font-size="15.3" fill="#000" text-anchor="middle">700</text>
<text transform="translate(222,1069.2) scale(1,1.07)" font-size="15.3" fill="#000" text-anchor="middle">800</text>
<text transform="translate(303,1069.2) scale(1,1.07)" font-size="15.3" fill="#000" text-anchor="middle">900</text>
<text transform="translate(384,1069.2) scale(1,1.07)" font-size="15.3" fill="#000" text-anchor="middle">1000</text>
<text transform="translate(465,1069.2) scale(1,1.07)" font-size="15.3" fill="#000" text-anchor="middle">1100</text>
<text transform="translate(262.7,1085.5) scale(1,1.04)" font-size="15.3" fill="#000" text-anchor="middle">Wavelength (nm)</text>
<text transform="translate(55.8,953.3) scale(1,1.07)" font-size="15.3" fill="#000" text-anchor="end">0.3</text>
<text transform="translate(55.8,1039.87) scale(1,1.07)" font-size="15.3" fill="#000" text-anchor="end">0.0</text>
<text transform="translate(22.6,996.8) rotate(-90) scale(1,1.04)" font-size="15.3" fill="#000" text-anchor="middle">Reflectance</text>
<text transform="translate(262.5,936.45)" font-size="19.35" fill="#000" text-anchor="middle">staurolite</text>
</g>
<g>
<path d="M597,31.7 V136.9 H1002 V31.7" fill="none" stroke="#1a1a1a" stroke-width="1.25" stroke-linejoin="miter"/>
<path d="M597,128.81 h8 M1002,128.81 h-8 M597,109.39 h4 M1002,109.39 h-4 M597,89.96 h4 M1002,89.96 h-4 M597,70.54 h4 M1002,70.54 h-4 M597,51.12 h4 M1002,51.12 h-4 M597,31.7 h8 M1002,31.7 h-8 M597,136.9 v-3.2 M605.1,136.9 v-1.8 M613.2,136.9 v-1.8 M621.3,136.9 v-1.8 M629.4,136.9 v-1.8 M637.5,136.9 v-1.8 M645.6,136.9 v-1.8 M653.7,136.9 v-1.8 M661.8,136.9 v-1.8 M669.9,136.9 v-1.8 M678,136.9 v-3.2 M686.1,136.9 v-1.8 M694.2,136.9 v-1.8 M702.3,136.9 v-1.8 M710.4,136.9 v-1.8 M718.5,136.9 v-1.8 M726.6,136.9 v-1.8 M734.7,136.9 v-1.8 M742.8,136.9 v-1.8 M750.9,136.9 v-1.8 M759,136.9 v-3.2 M767.1,136.9 v-1.8 M775.2,136.9 v-1.8 M783.3,136.9 v-1.8 M791.4,136.9 v-1.8 M799.5,136.9 v-1.8 M807.6,136.9 v-1.8 M815.7,136.9 v-1.8 M823.8,136.9 v-1.8 M831.9,136.9 v-1.8 M840,136.9 v-3.2 M848.1,136.9 v-1.8 M856.2,136.9 v-1.8 M864.3,136.9 v-1.8 M872.4,136.9 v-1.8 M880.5,136.9 v-1.8 M888.6,136.9 v-1.8 M896.7,136.9 v-1.8 M904.8,136.9 v-1.8 M912.9,136.9 v-1.8 M921,136.9 v-3.2 M929.1,136.9 v-1.8 M937.2,136.9 v-1.8 M945.3,136.9 v-1.8 M953.4,136.9 v-1.8 M961.5,136.9 v-1.8 M969.6,136.9 v-1.8 M977.7,136.9 v-1.8 M985.8,136.9 v-1.8 M993.9,136.9 v-1.8 M1002,136.9 v-3.2" fill="none" stroke="#1a1a1a" stroke-width="1.2"/>
<polygon points="605.1,128.81 605.1,63.88 607.1,63.62 609.1,63.38 611.1,63.14 613.1,62.9 615.1,62.68 617.1,62.46 619.1,62.25 621.1,62.05 623.1,61.86 625.1,61.68 627.1,61.52 629.1,61.38 631.1,61.24 633.1,61.1 635.1,60.96 637.1,60.82 639.1,60.66 641.1,60.48 643.1,60.27 645.1,60.02 647.1,59.73 649.1,59.4 651.1,59.06 653.1,58.7 655.1,58.33 657.1,57.96 659.1,57.6 661.1,57.25 663.1,56.92 665.1,56.63 667.1,56.31 669.1,55.97 671.1,55.63 673.1,55.32 675.1,55.07 677.1,54.89 679.1,54.83 681.1,54.83 683.1,54.83 685.1,54.83 687.1,54.83 689.1,54.83 691.1,54.83 693.1,54.83 695.1,54.83 697.1,54.83 699.1,54.83 701.1,54.9 703.1,55.23 705.1,55.73 707.1,56.34 709.1,56.98 711.1,57.6 713.1,58.29 715.1,59.06 717.1,59.91 719.1,60.81 721.1,61.77 723.1,62.78 725.1,63.82 727.1,64.9 729.1,66.09 731.1,67.39 733.1,68.77 735.1,70.21 737.1,71.68 739.1,73.17 741.1,74.65 743.1,76.09 745.1,77.47 747.1,78.81 749.1,80.16 751.1,81.52 753.1,82.87 755.1,84.19 757.1,85.48 759.1,86.72 761.1,87.91 763.1,89.01 765.1,90.05 767.1,91.05 769.1,92.01 771.1,92.93 773.1,93.83 775.1,94.7 777.1,95.55 779.1,96.39 781.1,97.22 783.1,98.05 785.1,98.88 787.1,99.75 789.1,100.61 791.1,101.45 793.1,102.22 795.1,102.9 797.1,103.45 799.1,103.92 801.1,104.35 803.1,104.73 805.1,105.08 807.1,105.4 809.1,105.68 811.1,105.93 813.1,106.18 815.1,106.42 817.1,106.66 819.1,106.9 821.1,107.13 823.1,107.36 825.1,107.58 827.1,107.79 829.1,107.98 831.1,108.17 833.1,108.34 835.1,108.49 837.1,108.62 839.1,108.74 841.1,108.83 843.1,108.9 845.1,108.95 847.1,108.97 849.1,108.96 851.1,108.93 853.1,108.88 855.1,108.8 857.1,108.71 859.1,108.6 861.1,108.48 863.1,108.34 865.1,108.19 867.1,108.03 869.1,107.86 871.1,107.68 873.1,107.49 875.1,107.3 877.1,107.11 879.1,106.89 881.1,106.62 883.1,106.31 885.1,105.96 887.1,105.57 889.1,105.14 891.1,104.68 893.1,104.19 895.1,103.66 897.1,103.11 899.1,102.54 901.1,101.94 903.1,101.33 905.1,100.69 907.1,100.05 909.1,99.38 911.1,98.71 913.1,98.03 915.1,97.34 917.1,96.65 919.1,95.96 921.1,95.27 923.1,94.52 925.1,93.73 927.1,92.88 929.1,92 931.1,91.08 933.1,90.13 935.1,89.15 937.1,88.15 939.1,87.12 941.1,86.08 943.1,85.03 945.1,83.97 947.1,82.9 949.1,81.84 951.1,80.78 953.1,79.74 955.1,78.7 957.1,77.69 959.1,76.69 961.1,75.73 963.1,74.77 965.1,73.82 967.1,72.88 969.1,71.93 971.1,70.99 973.1,70.04 975.1,69.1 977.1,68.17 979.1,67.23 981.1,66.29 983.1,65.36 985.1,64.43 987.1,63.5 989.1,62.57 991.1,61.65 993.1,60.72 993.9,60.35 993.9,128.81" fill="#c0c0c0"/>
<polyline points="605.1,63.88 607.1,63.62 609.1,63.38 611.1,63.14 613.1,62.9 615.1,62.68 617.1,62.46 619.1,62.25 621.1,62.05 623.1,61.86 625.1,61.68 627.1,61.52 629.1,61.38 631.1,61.24 633.1,61.1 635.1,60.96 637.1,60.82 639.1,60.66 641.1,60.48 643.1,60.27 645.1,60.02 647.1,59.73 649.1,59.4 651.1,59.06 653.1,58.7 655.1,58.33 657.1,57.96 659.1,57.6 661.1,57.25 663.1,56.92 665.1,56.63 667.1,56.31 669.1,55.97 671.1,55.63 673.1,55.32 675.1,55.07 677.1,54.89 679.1,54.83 681.1,54.83 683.1,54.83 685.1,54.83 687.1,54.83 689.1,54.83 691.1,54.83 693.1,54.83 695.1,54.83 697.1,54.83 699.1,54.83 701.1,54.9 703.1,55.23 705.1,55.73 707.1,56.34 709.1,56.98 711.1,57.6 713.1,58.29 715.1,59.06 717.1,59.91 719.1,60.81 721.1,61.77 723.1,62.78 725.1,63.82 727.1,64.9 729.1,66.09 731.1,67.39 733.1,68.77 735.1,70.21 737.1,71.68 739.1,73.17 741.1,74.65 743.1,76.09 745.1,77.47 747.1,78.81 749.1,80.16 751.1,81.52 753.1,82.87 755.1,84.19 757.1,85.48 759.1,86.72 761.1,87.91 763.1,89.01 765.1,90.05 767.1,91.05 769.1,92.01 771.1,92.93 773.1,93.83 775.1,94.7 777.1,95.55 779.1,96.39 781.1,97.22 783.1,98.05 785.1,98.88 787.1,99.75 789.1,100.61 791.1,101.45 793.1,102.22 795.1,102.9 797.1,103.45 799.1,103.92 801.1,104.35 803.1,104.73 805.1,105.08 807.1,105.4 809.1,105.68 811.1,105.93 813.1,106.18 815.1,106.42 817.1,106.66 819.1,106.9 821.1,107.13 823.1,107.36 825.1,107.58 827.1,107.79 829.1,107.98 831.1,108.17 833.1,108.34 835.1,108.49 837.1,108.62 839.1,108.74 841.1,108.83 843.1,108.9 845.1,108.95 847.1,108.97 849.1,108.96 851.1,108.93 853.1,108.88 855.1,108.8 857.1,108.71 859.1,108.6 861.1,108.48 863.1,108.34 865.1,108.19 867.1,108.03 869.1,107.86 871.1,107.68 873.1,107.49 875.1,107.3 877.1,107.11 879.1,106.89 881.1,106.62 883.1,106.31 885.1,105.96 887.1,105.57 889.1,105.14 891.1,104.68 893.1,104.19 895.1,103.66 897.1,103.11 899.1,102.54 901.1,101.94 903.1,101.33 905.1,100.69 907.1,100.05 909.1,99.38 911.1,98.71 913.1,98.03 915.1,97.34 917.1,96.65 919.1,95.96 921.1,95.27 923.1,94.52 925.1,93.73 927.1,92.88 929.1,92 931.1,91.08 933.1,90.13 935.1,89.15 937.1,88.15 939.1,87.12 941.1,86.08 943.1,85.03 945.1,83.97 947.1,82.9 949.1,81.84 951.1,80.78 953.1,79.74 955.1,78.7 957.1,77.69 959.1,76.69 961.1,75.73 963.1,74.77 965.1,73.82 967.1,72.88 969.1,71.93 971.1,70.99 973.1,70.04 975.1,69.1 977.1,68.17 979.1,67.23 981.1,66.29 983.1,65.36 985.1,64.43 987.1,63.5 989.1,62.57 991.1,61.65 993.1,60.72 993.9,60.35" fill="none" stroke="#8a8a8a" stroke-width="1"/>
<circle cx="649.6" cy="59.75" r="8.1" fill="#808080"/>
<circle cx="680.9" cy="55.85" r="8.1" fill="#808080"/>
<circle cx="710.3" cy="57.7" r="8.1" fill="#808080"/>
<circle cx="745.8" cy="78.21" r="8.1" fill="#808080"/>
<circle cx="810.6" cy="105.07" r="8.1" fill="#808080"/>
<circle cx="876.8" cy="106.1" r="8.1" fill="#808080"/>
<text transform="translate(647.3,79.57) scale(1,1.02)" font-size="15.3" fill="#fff" text-anchor="middle">4</text>
<text transform="translate(678.6,75.67) scale(1,1.02)" font-size="15.3" fill="#fff" text-anchor="middle">5</text>
<text transform="translate(708,77.52) scale(1,1.02)" font-size="15.3" fill="#fff" text-anchor="middle">6</text>
<text transform="translate(743.5,98.03) scale(1,1.02)" font-size="15.3" fill="#fff" text-anchor="middle">7</text>
<text transform="translate(810.6,124.89) scale(1,1.02)" font-size="15.3" fill="#fff" text-anchor="middle">8a</text>
<text transform="translate(874.5,125.92) scale(1,1.02)" font-size="15.3" fill="#fff" text-anchor="middle">9</text>
<polyline points="679.13,32.13 683.12,35.74 687.1,39.27 691.09,42.71 695.07,46.06 699.05,49.33 703.04,52.51 707.02,55.6 711.01,58.61 714.99,61.53 718.97,64.36 722.96,67.1 726.94,69.76 730.93,72.33 734.91,74.82 738.89,77.21 742.88,79.52 746.86,81.75 750.85,83.88 754.83,85.93 758.81,87.89 762.8,89.77 766.78,91.56 770.77,93.26 774.75,94.87 778.73,96.4 782.72,97.84 786.7,99.19 790.69,100.46 794.67,101.64 798.66,102.73 802.64,103.74 806.62,104.66 810.61,105.49 814.59,106.23 818.58,106.89 822.56,107.46 826.54,107.94 830.53,108.34 834.51,108.65 838.5,108.87 842.48,109.01 846.46,109.06 850.45,109.02 854.43,108.89 858.42,108.68 862.4,108.38 866.38,108 870.37,107.53 874.35,106.97 878.34,106.32 882.32,105.58 886.3,104.76 890.29,103.86 894.27,102.86 898.26,101.78 902.24,100.61 906.23,99.36 910.21,98.01 914.19,96.58 918.18,95.07 922.16,93.46 926.15,91.77 930.13,90 934.11,88.13 938.1,86.18 942.08,84.14 946.07,82.02 950.05,79.81 954.03,77.51 958.02,75.12 962,72.65 965.99,70.09 969.97,67.44 973.95,64.71 977.94,61.89 981.92,58.98 985.91,55.98 989.89,52.9 993.88,49.73" fill="none" stroke="#111" stroke-width="1.25"/>
<circle cx="847.45" cy="108.76" r="8" fill="#000"/>
<text transform="translate(597,156.7) scale(1,1.07)" font-size="15.3" fill="#000" text-anchor="middle">600</text>
<text transform="translate(678,156.7) scale(1,1.07)" font-size="15.3" fill="#000" text-anchor="middle">700</text>
<text transform="translate(759,156.7) scale(1,1.07)" font-size="15.3" fill="#000" text-anchor="middle">800</text>
<text transform="translate(840,156.7) scale(1,1.07)" font-size="15.3" fill="#000" text-anchor="middle">900</text>
<text transform="translate(921,156.7) scale(1,1.07)" font-size="15.3" fill="#000" text-anchor="middle">1000</text>
<text transform="translate(1002,156.7) scale(1,1.07)" font-size="15.3" fill="#000" text-anchor="middle">1100</text>
<text transform="translate(799.7,173) scale(1,1.04)" font-size="15.3" fill="#000" text-anchor="middle">Wavelength (nm)</text>
<text transform="translate(592.8,40.8) scale(1,1.07)" font-size="15.3" fill="#000" text-anchor="end">0.6</text>
<text transform="translate(592.8,134.31) scale(1,1.07)" font-size="15.3" fill="#000" text-anchor="end">0.0</text>
<text transform="translate(559.6,84.3) rotate(-90) scale(1,1.04)" font-size="15.3" fill="#000" text-anchor="middle">Reflectance</text>
<text transform="translate(799.5,23.95)" font-size="19.35" fill="#000" text-anchor="middle">bronzite.spc Bronzite HS9.3B</text>
</g>
<g>
<path d="M597,214.2 V319.4 H1002 V214.2" fill="none" stroke="#1a1a1a" stroke-width="1.25" stroke-linejoin="miter"/>
<path d="M597,311.31 h8 M1002,311.31 h-8 M597,291.89 h4 M1002,291.89 h-4 M597,272.46 h4 M1002,272.46 h-4 M597,253.04 h4 M1002,253.04 h-4 M597,233.62 h4 M1002,233.62 h-4 M597,214.2 h8 M1002,214.2 h-8 M597,319.4 v-3.2 M605.1,319.4 v-1.8 M613.2,319.4 v-1.8 M621.3,319.4 v-1.8 M629.4,319.4 v-1.8 M637.5,319.4 v-1.8 M645.6,319.4 v-1.8 M653.7,319.4 v-1.8 M661.8,319.4 v-1.8 M669.9,319.4 v-1.8 M678,319.4 v-3.2 M686.1,319.4 v-1.8 M694.2,319.4 v-1.8 M702.3,319.4 v-1.8 M710.4,319.4 v-1.8 M718.5,319.4 v-1.8 M726.6,319.4 v-1.8 M734.7,319.4 v-1.8 M742.8,319.4 v-1.8 M750.9,319.4 v-1.8 M759,319.4 v-3.2 M767.1,319.4 v-1.8 M775.2,319.4 v-1.8 M783.3,319.4 v-1.8 M791.4,319.4 v-1.8 M799.5,319.4 v-1.8 M807.6,319.4 v-1.8 M815.7,319.4 v-1.8 M823.8,319.4 v-1.8 M831.9,319.4 v-1.8 M840,319.4 v-3.2 M848.1,319.4 v-1.8 M856.2,319.4 v-1.8 M864.3,319.4 v-1.8 M872.4,319.4 v-1.8 M880.5,319.4 v-1.8 M888.6,319.4 v-1.8 M896.7,319.4 v-1.8 M904.8,319.4 v-1.8 M912.9,319.4 v-1.8 M921,319.4 v-3.2 M929.1,319.4 v-1.8 M937.2,319.4 v-1.8 M945.3,319.4 v-1.8 M953.4,319.4 v-1.8 M961.5,319.4 v-1.8 M969.6,319.4 v-1.8 M977.7,319.4 v-1.8 M985.8,319.4 v-1.8 M993.9,319.4 v-1.8 M1002,319.4 v-3.2" fill="none" stroke="#1a1a1a" stroke-width="1.2"/>
<polygon points="605.1,311.31 605.1,240.11 607.1,240.96 609.1,241.76 611.1,242.5 613.1,243.15 615.1,243.76 617.1,244.39 619.1,244.98 621.1,245.44 623.1,245.7 625.1,245.77 627.1,245.81 629.1,245.85 631.1,245.88 633.1,245.9 635.1,245.92 637.1,245.93 639.1,245.94 641.1,245.93 643.1,245.86 645.1,245.74 647.1,245.57 649.1,245.36 651.1,244.88 653.1,243.94 655.1,242.88 657.1,242.07 659.1,241.84 661.1,241.84 663.1,241.84 665.1,241.85 667.1,242.17 669.1,242.65 671.1,242.86 673.1,242.48 675.1,241.63 677.1,240.54 679.1,239.47 681.1,238.65 683.1,238.04 685.1,237.49 687.1,236.97 689.1,236.42 691.1,235.8 693.1,235.02 695.1,234.08 697.1,233.14 699.1,232.36 701.1,231.82 703.1,231.36 705.1,230.95 707.1,230.6 709.1,230.29 711.1,230.01 713.1,229.75 715.1,229.51 717.1,229.28 719.1,229.07 721.1,228.88 723.1,228.72 725.1,228.58 727.1,228.46 729.1,228.35 731.1,228.25 733.1,228.16 735.1,228.11 737.1,228.1 739.1,228.1 741.1,228.1 743.1,228.1 745.1,228.1 747.1,228.12 749.1,228.22 751.1,228.38 753.1,228.56 755.1,228.75 757.1,228.92 759.1,229.07 761.1,229.22 763.1,229.37 765.1,229.53 767.1,229.7 769.1,229.89 771.1,230.11 773.1,230.38 775.1,230.72 777.1,231.12 779.1,231.55 781.1,232 783.1,232.45 785.1,232.88 787.1,233.29 789.1,233.71 791.1,234.13 793.1,234.54 795.1,234.93 797.1,235.29 799.1,235.62 801.1,235.93 803.1,236.21 805.1,236.5 807.1,236.78 809.1,237.07 811.1,237.38 813.1,237.71 815.1,238.04 817.1,238.39 819.1,238.74 821.1,239.1 823.1,239.47 825.1,239.84 827.1,240.22 829.1,240.6 831.1,240.99 833.1,241.38 835.1,241.77 837.1,242.16 839.1,242.55 841.1,242.95 843.1,243.34 845.1,243.73 847.1,244.11 849.1,244.49 851.1,244.87 853.1,245.25 855.1,245.61 857.1,245.97 859.1,246.33 861.1,246.67 863.1,247.01 865.1,247.33 867.1,247.65 869.1,247.95 871.1,248.24 873.1,248.52 875.1,248.78 877.1,249.03 879.1,249.26 881.1,249.47 883.1,249.66 885.1,249.84 887.1,250.03 889.1,250.21 891.1,250.41 893.1,250.62 895.1,250.86 897.1,251.1 899.1,251.36 901.1,251.62 903.1,251.89 905.1,252.17 907.1,252.45 909.1,252.73 911.1,253.01 913.1,253.3 915.1,253.61 917.1,253.93 919.1,254.27 921.1,254.62 923.1,254.96 925.1,255.3 927.1,255.62 929.1,255.93 931.1,256.21 933.1,256.47 935.1,256.68 937.1,256.86 939.1,257.03 941.1,257.2 943.1,257.36 945.1,257.52 947.1,257.67 949.1,257.81 951.1,257.93 953.1,258.04 955.1,258.12 957.1,258.19 959.1,258.23 961.1,258.24 963.1,258.23 965.1,258.21 967.1,258.17 969.1,258.12 971.1,258.06 973.1,257.99 975.1,257.92 977.1,257.85 979.1,257.77 981.1,257.68 983.1,257.57 985.1,257.45 987.1,257.32 989.1,257.18 991.1,257.03 993.1,256.87 993.9,256.81 993.9,311.31" fill="#c0c0c0"/>
<polyline points="605.1,240.11 607.1,240.96 609.1,241.76 611.1,242.5 613.1,243.15 615.1,243.76 617.1,244.39 619.1,244.98 621.1,245.44 623.1,245.7 625.1,245.77 627.1,245.81 629.1,245.85 631.1,245.88 633.1,245.9 635.1,245.92 637.1,245.93 639.1,245.94 641.1,245.93 643.1,245.86 645.1,245.74 647.1,245.57 649.1,245.36 651.1,244.88 653.1,243.94 655.1,242.88 657.1,242.07 659.1,241.84 661.1,241.84 663.1,241.84 665.1,241.85 667.1,242.17 669.1,242.65 671.1,242.86 673.1,242.48 675.1,241.63 677.1,240.54 679.1,239.47 681.1,238.65 683.1,238.04 685.1,237.49 687.1,236.97 689.1,236.42 691.1,235.8 693.1,235.02 695.1,234.08 697.1,233.14 699.1,232.36 701.1,231.82 703.1,231.36 705.1,230.95 707.1,230.6 709.1,230.29 711.1,230.01 713.1,229.75 715.1,229.51 717.1,229.28 719.1,229.07 721.1,228.88 723.1,228.72 725.1,228.58 727.1,228.46 729.1,228.35 731.1,228.25 733.1,228.16 735.1,228.11 737.1,228.1 739.1,228.1 741.1,228.1 743.1,228.1 745.1,228.1 747.1,228.12 749.1,228.22 751.1,228.38 753.1,228.56 755.1,228.75 757.1,228.92 759.1,229.07 761.1,229.22 763.1,229.37 765.1,229.53 767.1,229.7 769.1,229.89 771.1,230.11 773.1,230.38 775.1,230.72 777.1,231.12 779.1,231.55 781.1,232 783.1,232.45 785.1,232.88 787.1,233.29 789.1,233.71 791.1,234.13 793.1,234.54 795.1,234.93 797.1,235.29 799.1,235.62 801.1,235.93 803.1,236.21 805.1,236.5 807.1,236.78 809.1,237.07 811.1,237.38 813.1,237.71 815.1,238.04 817.1,238.39 819.1,238.74 821.1,239.1 823.1,239.47 825.1,239.84 827.1,240.22 829.1,240.6 831.1,240.99 833.1,241.38 835.1,241.77 837.1,242.16 839.1,242.55 841.1,242.95 843.1,243.34 845.1,243.73 847.1,244.11 849.1,244.49 851.1,244.87 853.1,245.25 855.1,245.61 857.1,245.97 859.1,246.33 861.1,246.67 863.1,247.01 865.1,247.33 867.1,247.65 869.1,247.95 871.1,248.24 873.1,248.52 875.1,248.78 877.1,249.03 879.1,249.26 881.1,249.47 883.1,249.66 885.1,249.84 887.1,250.03 889.1,250.21 891.1,250.41 893.1,250.62 895.1,250.86 897.1,251.1 899.1,251.36 901.1,251.62 903.1,251.89 905.1,252.17 907.1,252.45 909.1,252.73 911.1,253.01 913.1,253.3 915.1,253.61 917.1,253.93 919.1,254.27 921.1,254.62 923.1,254.96 925.1,255.3 927.1,255.62 929.1,255.93 931.1,256.21 933.1,256.47 935.1,256.68 937.1,256.86 939.1,257.03 941.1,257.2 943.1,257.36 945.1,257.52 947.1,257.67 949.1,257.81 951.1,257.93 953.1,258.04 955.1,258.12 957.1,258.19 959.1,258.23 961.1,258.24 963.1,258.23 965.1,258.21 967.1,258.17 969.1,258.12 971.1,258.06 973.1,257.99 975.1,257.92 977.1,257.85 979.1,257.77 981.1,257.68 983.1,257.57 985.1,257.45 987.1,257.32 989.1,257.18 991.1,257.03 993.1,256.87 993.9,256.81" fill="none" stroke="#8a8a8a" stroke-width="1"/>
<circle cx="649.6" cy="245.53" r="8.1" fill="#808080"/>
<circle cx="680.9" cy="239.38" r="8.1" fill="#808080"/>
<circle cx="710.3" cy="230.56" r="8.1" fill="#808080"/>
<circle cx="745.8" cy="228.51" r="8.1" fill="#808080"/>
<circle cx="810.6" cy="237.12" r="8.1" fill="#808080"/>
<circle cx="876.8" cy="249.02" r="8.1" fill="#808080"/>
<text transform="translate(647.3,265.35) scale(1,1.02)" font-size="15.3" fill="#fff" text-anchor="middle">4</text>
<text transform="translate(678.6,259.2) scale(1,1.02)" font-size="15.3" fill="#fff" text-anchor="middle">5</text>
<text transform="translate(708,250.38) scale(1,1.02)" font-size="15.3" fill="#fff" text-anchor="middle">6</text>
<text transform="translate(743.5,248.33) scale(1,1.02)" font-size="15.3" fill="#fff" text-anchor="middle">7</text>
<text transform="translate(810.6,256.94) scale(1,1.02)" font-size="15.3" fill="#fff" text-anchor="middle">8a</text>
<text transform="translate(874.5,268.84) scale(1,1.02)" font-size="15.3" fill="#fff" text-anchor="middle">9</text>
<polyline points="605.3,238.55 609.42,237.93 613.53,237.34 617.65,236.77 621.76,236.23 625.87,235.71 629.99,235.21 634.1,234.74 638.22,234.29 642.33,233.87 646.44,233.47 650.56,233.09 654.67,232.73 658.79,232.4 662.9,232.1 667.01,231.82 671.13,231.56 675.24,231.32 679.35,231.11 683.47,230.93 687.58,230.76 691.7,230.62 695.81,230.51 699.92,230.42 704.04,230.35 708.15,230.31 712.27,230.29 716.38,230.29 720.49,230.32 724.61,230.37 728.72,230.44 732.83,230.54 736.95,230.67 741.06,230.81 745.18,230.98 749.29,231.18 753.4,231.39 757.52,231.64 761.63,231.9 765.75,232.19 769.86,232.51 773.97,232.84 778.09,233.2 782.2,233.59 786.32,234 790.43,234.43 794.54,234.88 798.66,235.36 802.77,235.87 806.88,236.4 811,236.95 815.11,237.52 819.23,238.12 823.34,238.74 827.45,239.39 831.57,240.06 835.68,240.76 839.8,241.47 843.91,242.22 848.02,242.98 852.14,243.77 856.25,244.59 860.36,245.42 864.48,246.28 868.59,247.17 872.71,248.08 876.82,249.01 880.93,249.97 885.05,250.95 889.16,251.95 893.28,252.98 897.39,254.03 901.5,255.1 905.62,256.2 909.73,257.33 913.85,258.47 917.96,259.64 922.07,260.84 926.19,262.06 930.3,263.3" fill="none" stroke="#111" stroke-width="1.25"/>
<text transform="translate(597,339.2) scale(1,1.07)" font-size="15.3" fill="#000" text-anchor="middle">600</text>
<text transform="translate(678,339.2) scale(1,1.07)" font-size="15.3" fill="#000" text-anchor="middle">700</text>
<text transform="translate(759,339.2) scale(1,1.07)" font-size="15.3" fill="#000" text-anchor="middle">800</text>
<text transform="translate(840,339.2) scale(1,1.07)" font-size="15.3" fill="#000" text-anchor="middle">900</text>
<text transform="translate(921,339.2) scale(1,1.07)" font-size="15.3" fill="#000" text-anchor="middle">1000</text>
<text transform="translate(1002,339.2) scale(1,1.07)" font-size="15.3" fill="#000" text-anchor="middle">1100</text>
<text transform="translate(799.7,355.5) scale(1,1.04)" font-size="15.3" fill="#000" text-anchor="middle">Wavelength (nm)</text>
<text transform="translate(592.8,223.3) scale(1,1.07)" font-size="15.3" fill="#000" text-anchor="end">0.6</text>
<text transform="translate(592.8,316.81) scale(1,1.07)" font-size="15.3" fill="#000" text-anchor="end">0.0</text>
<text transform="translate(559.6,266.8) rotate(-90) scale(1,1.04)" font-size="15.3" fill="#000" text-anchor="middle">Reflectance</text>
<text transform="translate(799.5,206.45)" font-size="19.35" fill="#000" text-anchor="middle">diopsid1.spc Diopside HS317.3B  (Cr)</text>
</g>
<g>
<path d="M597,396.7 V501.9 H1002 V396.7" fill="none" stroke="#1a1a1a" stroke-width="1.25" stroke-linejoin="miter"/>
<path d="M597,493.81 h8 M1002,493.81 h-8 M597,474.39 h4 M1002,474.39 h-4 M597,454.96 h4 M1002,454.96 h-4 M597,435.54 h4 M1002,435.54 h-4 M597,416.12 h4 M1002,416.12 h-4 M597,396.7 h8 M1002,396.7 h-8 M597,501.9 v-3.2 M605.1,501.9 v-1.8 M613.2,501.9 v-1.8 M621.3,501.9 v-1.8 M629.4,501.9 v-1.8 M637.5,501.9 v-1.8 M645.6,501.9 v-1.8 M653.7,501.9 v-1.8 M661.8,501.9 v-1.8 M669.9,501.9 v-1.8 M678,501.9 v-3.2 M686.1,501.9 v-1.8 M694.2,501.9 v-1.8 M702.3,501.9 v-1.8 M710.4,501.9 v-1.8 M718.5,501.9 v-1.8 M726.6,501.9 v-1.8 M734.7,501.9 v-1.8 M742.8,501.9 v-1.8 M750.9,501.9 v-1.8 M759,501.9 v-3.2 M767.1,501.9 v-1.8 M775.2,501.9 v-1.8 M783.3,501.9 v-1.8 M791.4,501.9 v-1.8 M799.5,501.9 v-1.8 M807.6,501.9 v-1.8 M815.7,501.9 v-1.8 M823.8,501.9 v-1.8 M831.9,501.9 v-1.8 M840,501.9 v-3.2 M848.1,501.9 v-1.8 M856.2,501.9 v-1.8 M864.3,501.9 v-1.8 M872.4,501.9 v-1.8 M880.5,501.9 v-1.8 M888.6,501.9 v-1.8 M896.7,501.9 v-1.8 M904.8,501.9 v-1.8 M912.9,501.9 v-1.8 M921,501.9 v-3.2 M929.1,501.9 v-1.8 M937.2,501.9 v-1.8 M945.3,501.9 v-1.8 M953.4,501.9 v-1.8 M961.5,501.9 v-1.8 M969.6,501.9 v-1.8 M977.7,501.9 v-1.8 M985.8,501.9 v-1.8 M993.9,501.9 v-1.8 M1002,501.9 v-3.2" fill="none" stroke="#1a1a1a" stroke-width="1.2"/>
<polygon points="605.1,493.81 605.1,461.34 607.1,461.34 609.1,461.33 611.1,461.32 613.1,461.31 615.1,461.29 617.1,461.26 619.1,461.23 621.1,461.2 623.1,461.16 625.1,461.12 627.1,461.08 629.1,461.04 631.1,460.99 633.1,460.93 635.1,460.88 637.1,460.82 639.1,460.76 641.1,460.69 643.1,460.59 645.1,460.46 647.1,460.31 649.1,460.14 651.1,459.95 653.1,459.74 655.1,459.5 657.1,459.24 659.1,458.96 661.1,458.66 663.1,458.34 665.1,458.01 667.1,457.67 669.1,457.32 671.1,456.96 673.1,456.59 675.1,456.23 677.1,455.86 679.1,455.49 681.1,455.13 683.1,454.75 685.1,454.34 687.1,453.91 689.1,453.46 691.1,453 693.1,452.53 695.1,452.06 697.1,451.6 699.1,451.14 701.1,450.7 703.1,450.28 705.1,449.88 707.1,449.52 709.1,449.19 711.1,448.89 713.1,448.58 715.1,448.27 717.1,447.97 719.1,447.72 721.1,447.53 723.1,447.41 725.1,447.4 727.1,447.4 729.1,447.4 731.1,447.4 733.1,447.4 735.1,447.4 737.1,447.4 739.1,447.4 741.1,447.4 743.1,447.4 745.1,447.4 747.1,447.44 749.1,447.6 751.1,447.87 753.1,448.23 755.1,448.65 757.1,449.12 759.1,449.62 761.1,450.12 763.1,450.61 765.1,451.06 767.1,451.46 769.1,451.81 771.1,452.16 773.1,452.5 775.1,452.84 777.1,453.18 779.1,453.51 781.1,453.83 783.1,454.15 785.1,454.47 787.1,454.78 789.1,455.11 791.1,455.43 793.1,455.73 795.1,456 797.1,456.22 799.1,456.42 801.1,456.6 803.1,456.77 805.1,456.92 807.1,457.05 809.1,457.16 811.1,457.25 813.1,457.34 815.1,457.42 817.1,457.49 819.1,457.57 821.1,457.64 823.1,457.71 825.1,457.78 827.1,457.85 829.1,457.91 831.1,457.96 833.1,458.02 835.1,458.06 837.1,458.11 839.1,458.15 841.1,458.18 843.1,458.21 845.1,458.23 847.1,458.25 849.1,458.26 851.1,458.27 853.1,458.26 855.1,458.25 857.1,458.22 859.1,458.19 861.1,458.15 863.1,458.1 865.1,458.04 867.1,457.98 869.1,457.92 871.1,457.85 873.1,457.78 875.1,457.72 877.1,457.65 879.1,457.57 881.1,457.49 883.1,457.39 885.1,457.29 887.1,457.18 889.1,457.06 891.1,456.94 893.1,456.81 895.1,456.67 897.1,456.52 899.1,456.37 901.1,456.22 903.1,456.06 905.1,455.89 907.1,455.72 909.1,455.55 911.1,455.38 913.1,455.2 915.1,455.02 917.1,454.84 919.1,454.66 921.1,454.48 923.1,454.28 925.1,454.08 927.1,453.87 929.1,453.65 931.1,453.42 933.1,453.18 935.1,452.94 937.1,452.69 939.1,452.43 941.1,452.17 943.1,451.91 945.1,451.65 947.1,451.38 949.1,451.11 951.1,450.84 953.1,450.57 955.1,450.3 957.1,450.01 959.1,449.73 961.1,449.43 963.1,449.13 965.1,448.82 967.1,448.51 969.1,448.18 971.1,447.84 973.1,447.5 975.1,447.14 977.1,446.77 979.1,446.39 981.1,446 983.1,445.6 985.1,445.2 987.1,444.78 989.1,444.35 991.1,443.91 993.1,443.47 993.9,443.29 993.9,493.81" fill="#c0c0c0"/>
<polyline points="605.1,461.34 607.1,461.34 609.1,461.33 611.1,461.32 613.1,461.31 615.1,461.29 617.1,461.26 619.1,461.23 621.1,461.2 623.1,461.16 625.1,461.12 627.1,461.08 629.1,461.04 631.1,460.99 633.1,460.93 635.1,460.88 637.1,460.82 639.1,460.76 641.1,460.69 643.1,460.59 645.1,460.46 647.1,460.31 649.1,460.14 651.1,459.95 653.1,459.74 655.1,459.5 657.1,459.24 659.1,458.96 661.1,458.66 663.1,458.34 665.1,458.01 667.1,457.67 669.1,457.32 671.1,456.96 673.1,456.59 675.1,456.23 677.1,455.86 679.1,455.49 681.1,455.13 683.1,454.75 685.1,454.34 687.1,453.91 689.1,453.46 691.1,453 693.1,452.53 695.1,452.06 697.1,451.6 699.1,451.14 701.1,450.7 703.1,450.28 705.1,449.88 707.1,449.52 709.1,449.19 711.1,448.89 713.1,448.58 715.1,448.27 717.1,447.97 719.1,447.72 721.1,447.53 723.1,447.41 725.1,447.4 727.1,447.4 729.1,447.4 731.1,447.4 733.1,447.4 735.1,447.4 737.1,447.4 739.1,447.4 741.1,447.4 743.1,447.4 745.1,447.4 747.1,447.44 749.1,447.6 751.1,447.87 753.1,448.23 755.1,448.65 757.1,449.12 759.1,449.62 761.1,450.12 763.1,450.61 765.1,451.06 767.1,451.46 769.1,451.81 771.1,452.16 773.1,452.5 775.1,452.84 777.1,453.18 779.1,453.51 781.1,453.83 783.1,454.15 785.1,454.47 787.1,454.78 789.1,455.11 791.1,455.43 793.1,455.73 795.1,456 797.1,456.22 799.1,456.42 801.1,456.6 803.1,456.77 805.1,456.92 807.1,457.05 809.1,457.16 811.1,457.25 813.1,457.34 815.1,457.42 817.1,457.49 819.1,457.57 821.1,457.64 823.1,457.71 825.1,457.78 827.1,457.85 829.1,457.91 831.1,457.96 833.1,458.02 835.1,458.06 837.1,458.11 839.1,458.15 841.1,458.18 843.1,458.21 845.1,458.23 847.1,458.25 849.1,458.26 851.1,458.27 853.1,458.26 855.1,458.25 857.1,458.22 859.1,458.19 861.1,458.15 863.1,458.1 865.1,458.04 867.1,457.98 869.1,457.92 871.1,457.85 873.1,457.78 875.1,457.72 877.1,457.65 879.1,457.57 881.1,457.49 883.1,457.39 885.1,457.29 887.1,457.18 889.1,457.06 891.1,456.94 893.1,456.81 895.1,456.67 897.1,456.52 899.1,456.37 901.1,456.22 903.1,456.06 905.1,455.89 907.1,455.72 909.1,455.55 911.1,455.38 913.1,455.2 915.1,455.02 917.1,454.84 919.1,454.66 921.1,454.48 923.1,454.28 925.1,454.08 927.1,453.87 929.1,453.65 931.1,453.42 933.1,453.18 935.1,452.94 937.1,452.69 939.1,452.43 941.1,452.17 943.1,451.91 945.1,451.65 947.1,451.38 949.1,451.11 951.1,450.84 953.1,450.57 955.1,450.3 957.1,450.01 959.1,449.73 961.1,449.43 963.1,449.13 965.1,448.82 967.1,448.51 969.1,448.18 971.1,447.84 973.1,447.5 975.1,447.14 977.1,446.77 979.1,446.39 981.1,446 983.1,445.6 985.1,445.2 987.1,444.78 989.1,444.35 991.1,443.91 993.1,443.47 993.9,443.29" fill="none" stroke="#8a8a8a" stroke-width="1"/>
<circle cx="649.6" cy="460.11" r="8.1" fill="#808080"/>
<circle cx="680.9" cy="455.19" r="8.1" fill="#808080"/>
<circle cx="710.3" cy="449.04" r="8.1" fill="#808080"/>
<circle cx="745.8" cy="448.83" r="8.1" fill="#808080"/>
<circle cx="810.6" cy="457.04" r="8.1" fill="#808080"/>
<circle cx="876.8" cy="457.04" r="8.1" fill="#808080"/>
<text transform="translate(647.3,479.93) scale(1,1.02)" font-size="15.3" fill="#fff" text-anchor="middle">4</text>
<text transform="translate(678.6,475.01) scale(1,1.02)" font-size="15.3" fill="#fff" text-anchor="middle">5</text>
<text transform="translate(708,468.86) scale(1,1.02)" font-size="15.3" fill="#fff" text-anchor="middle">6</text>
<text transform="translate(743.5,468.65) scale(1,1.02)" font-size="15.3" fill="#fff" text-anchor="middle">7</text>
<text transform="translate(810.6,476.86) scale(1,1.02)" font-size="15.3" fill="#fff" text-anchor="middle">8a</text>
<text transform="translate(874.5,476.86) scale(1,1.02)" font-size="15.3" fill="#fff" text-anchor="middle">9</text>
<polyline points="605.3,432.58 610.22,433.58 615.14,434.57 620.06,435.54 624.98,436.48 629.9,437.41 634.82,438.31 639.73,439.2 644.65,440.06 649.57,440.9 654.49,441.73 659.41,442.53 664.33,443.31 669.25,444.07 674.17,444.81 679.08,445.53 684,446.23 688.92,446.91 693.84,447.57 698.76,448.21 703.68,448.83 708.6,449.42 713.51,450 718.43,450.56 723.35,451.09 728.27,451.61 733.19,452.1 738.11,452.57 743.03,453.03 747.94,453.46 752.86,453.87 757.78,454.27 762.7,454.64 767.62,454.99 772.54,455.32 777.46,455.63 782.37,455.92 787.29,456.19 792.21,456.44 797.13,456.66 802.05,456.87 806.97,457.06 811.89,457.22 816.8,457.37 821.72,457.5 826.64,457.6 831.56,457.69 836.48,457.75 841.4,457.79 846.32,457.82 851.24,457.82 856.15,457.8 861.07,457.76 865.99,457.7 870.91,457.62 875.83,457.52 880.75,457.4 885.67,457.26 890.58,457.1 895.5,456.92 900.42,456.71 905.34,456.49 910.26,456.25 915.18,455.98 920.1,455.7 925.01,455.39 929.93,455.07 934.85,454.72 939.77,454.35 944.69,453.96 949.61,453.56 954.53,453.13 959.44,452.68 964.36,452.21 969.28,451.72 974.2,451.21 979.12,450.68 984.04,450.13 988.96,449.56 993.88,448.96" fill="none" stroke="#111" stroke-width="1.25"/>
<circle cx="851.35" cy="458.06" r="8" fill="#000"/>
<text transform="translate(597,521.7) scale(1,1.07)" font-size="15.3" fill="#000" text-anchor="middle">600</text>
<text transform="translate(678,521.7) scale(1,1.07)" font-size="15.3" fill="#000" text-anchor="middle">700</text>
<text transform="translate(759,521.7) scale(1,1.07)" font-size="15.3" fill="#000" text-anchor="middle">800</text>
<text transform="translate(840,521.7) scale(1,1.07)" font-size="15.3" fill="#000" text-anchor="middle">900</text>
<text transform="translate(921,521.7) scale(1,1.07)" font-size="15.3" fill="#000" text-anchor="middle">1000</text>
<text transform="translate(1002,521.7) scale(1,1.07)" font-size="15.3" fill="#000" text-anchor="middle">1100</text>
<text transform="translate(799.7,538) scale(1,1.04)" font-size="15.3" fill="#000" text-anchor="middle">Wavelength (nm)</text>
<text transform="translate(592.8,405.8) scale(1,1.07)" font-size="15.3" fill="#000" text-anchor="end">0.6</text>
<text transform="translate(592.8,499.31) scale(1,1.07)" font-size="15.3" fill="#000" text-anchor="end">0.0</text>
<text transform="translate(559.6,449.3) rotate(-90) scale(1,1.04)" font-size="15.3" fill="#000" text-anchor="middle">Reflectance</text>
<text transform="translate(799.5,388.95)" font-size="19.35" fill="#000" text-anchor="middle">goethit1.spc Goethite WS222</text>
</g>
<g>
<path d="M597,579.2 V684.4 H1002 V579.2" fill="none" stroke="#1a1a1a" stroke-width="1.25" stroke-linejoin="miter"/>
<path d="M597,663.36 h8 M1002,663.36 h-8 M597,642.32 h4 M1002,642.32 h-4 M597,621.28 h4 M1002,621.28 h-4 M597,600.24 h4 M1002,600.24 h-4 M597,579.2 h8 M1002,579.2 h-8 M597,684.4 v-3.2 M605.1,684.4 v-1.8 M613.2,684.4 v-1.8 M621.3,684.4 v-1.8 M629.4,684.4 v-1.8 M637.5,684.4 v-1.8 M645.6,684.4 v-1.8 M653.7,684.4 v-1.8 M661.8,684.4 v-1.8 M669.9,684.4 v-1.8 M678,684.4 v-3.2 M686.1,684.4 v-1.8 M694.2,684.4 v-1.8 M702.3,684.4 v-1.8 M710.4,684.4 v-1.8 M718.5,684.4 v-1.8 M726.6,684.4 v-1.8 M734.7,684.4 v-1.8 M742.8,684.4 v-1.8 M750.9,684.4 v-1.8 M759,684.4 v-3.2 M767.1,684.4 v-1.8 M775.2,684.4 v-1.8 M783.3,684.4 v-1.8 M791.4,684.4 v-1.8 M799.5,684.4 v-1.8 M807.6,684.4 v-1.8 M815.7,684.4 v-1.8 M823.8,684.4 v-1.8 M831.9,684.4 v-1.8 M840,684.4 v-3.2 M848.1,684.4 v-1.8 M856.2,684.4 v-1.8 M864.3,684.4 v-1.8 M872.4,684.4 v-1.8 M880.5,684.4 v-1.8 M888.6,684.4 v-1.8 M896.7,684.4 v-1.8 M904.8,684.4 v-1.8 M912.9,684.4 v-1.8 M921,684.4 v-3.2 M929.1,684.4 v-1.8 M937.2,684.4 v-1.8 M945.3,684.4 v-1.8 M953.4,684.4 v-1.8 M961.5,684.4 v-1.8 M969.6,684.4 v-1.8 M977.7,684.4 v-1.8 M985.8,684.4 v-1.8 M993.9,684.4 v-1.8 M1002,684.4 v-3.2" fill="none" stroke="#1a1a1a" stroke-width="1.2"/>
<polygon points="605.1,663.36 605.1,634.53 607.1,634.45 609.1,634.36 611.1,634.25 613.1,634.13 615.1,633.99 617.1,633.84 619.1,633.68 621.1,633.5 623.1,633.32 625.1,633.12 627.1,632.92 629.1,632.71 631.1,632.49 633.1,632.27 635.1,632.04 637.1,631.81 639.1,631.57 641.1,631.33 643.1,631.05 645.1,630.74 647.1,630.41 649.1,630.06 651.1,629.71 653.1,629.34 655.1,628.96 657.1,628.56 659.1,628.16 661.1,627.75 663.1,627.32 665.1,626.89 667.1,626.45 669.1,626 671.1,625.54 673.1,625.07 675.1,624.6 677.1,624.13 679.1,623.65 681.1,623.16 683.1,622.64 685.1,622.08 687.1,621.5 689.1,620.9 691.1,620.3 693.1,619.72 695.1,619.17 697.1,618.67 699.1,618.22 701.1,617.83 703.1,617.46 705.1,617.11 707.1,616.81 709.1,616.57 711.1,616.4 713.1,616.24 715.1,616.1 717.1,615.97 719.1,615.86 721.1,615.77 723.1,615.7 725.1,615.66 727.1,615.66 729.1,615.69 731.1,615.74 733.1,615.82 735.1,615.92 737.1,616.04 739.1,616.17 741.1,616.32 743.1,616.48 745.1,616.64 747.1,616.85 749.1,617.15 751.1,617.54 753.1,617.99 755.1,618.47 757.1,618.95 759.1,619.41 761.1,619.82 763.1,620.15 765.1,620.44 767.1,620.74 769.1,621.04 771.1,621.33 773.1,621.62 775.1,621.88 777.1,622.11 779.1,622.31 781.1,622.47 783.1,622.57 785.1,622.63 787.1,622.62 789.1,622.57 791.1,622.49 793.1,622.4 795.1,622.3 797.1,622.21 799.1,622.14 801.1,622.06 803.1,621.98 805.1,621.89 807.1,621.8 809.1,621.7 811.1,621.58 813.1,621.46 815.1,621.33 817.1,621.2 819.1,621.06 821.1,620.92 823.1,620.77 825.1,620.62 827.1,620.45 829.1,620.29 831.1,620.11 833.1,619.93 835.1,619.74 837.1,619.55 839.1,619.34 841.1,619.14 843.1,618.92 845.1,618.69 847.1,618.46 849.1,618.22 851.1,617.98 853.1,617.72 855.1,617.46 857.1,617.19 859.1,616.91 861.1,616.62 863.1,616.32 865.1,616.02 867.1,615.7 869.1,615.38 871.1,615.05 873.1,614.71 875.1,614.35 877.1,613.99 879.1,613.56 881.1,613.02 883.1,612.39 885.1,611.7 887.1,610.97 889.1,610.22 891.1,609.47 893.1,608.74 895.1,608.07 897.1,607.46 899.1,606.94 901.1,606.5 903.1,606.1 905.1,605.73 907.1,605.38 909.1,605.05 911.1,604.73 913.1,604.42 915.1,604.12 917.1,603.81 919.1,603.5 921.1,603.18 923.1,602.84 925.1,602.49 927.1,602.14 929.1,601.79 931.1,601.46 933.1,601.14 935.1,600.85 937.1,600.6 939.1,600.39 941.1,600.24 943.1,600.09 945.1,599.96 947.1,599.84 949.1,599.74 951.1,599.68 953.1,599.66 955.1,599.66 957.1,599.66 959.1,599.66 961.1,599.66 963.1,599.66 965.1,599.66 967.1,599.66 969.1,599.66 971.1,599.66 973.1,599.66 975.1,599.67 977.1,599.68 979.1,599.69 981.1,599.71 983.1,599.73 985.1,599.75 987.1,599.77 989.1,599.8 991.1,599.83 993.1,599.85 993.9,599.87 993.9,663.36" fill="#c0c0c0"/>
<polyline points="605.1,634.53 607.1,634.45 609.1,634.36 611.1,634.25 613.1,634.13 615.1,633.99 617.1,633.84 619.1,633.68 621.1,633.5 623.1,633.32 625.1,633.12 627.1,632.92 629.1,632.71 631.1,632.49 633.1,632.27 635.1,632.04 637.1,631.81 639.1,631.57 641.1,631.33 643.1,631.05 645.1,630.74 647.1,630.41 649.1,630.06 651.1,629.71 653.1,629.34 655.1,628.96 657.1,628.56 659.1,628.16 661.1,627.75 663.1,627.32 665.1,626.89 667.1,626.45 669.1,626 671.1,625.54 673.1,625.07 675.1,624.6 677.1,624.13 679.1,623.65 681.1,623.16 683.1,622.64 685.1,622.08 687.1,621.5 689.1,620.9 691.1,620.3 693.1,619.72 695.1,619.17 697.1,618.67 699.1,618.22 701.1,617.83 703.1,617.46 705.1,617.11 707.1,616.81 709.1,616.57 711.1,616.4 713.1,616.24 715.1,616.1 717.1,615.97 719.1,615.86 721.1,615.77 723.1,615.7 725.1,615.66 727.1,615.66 729.1,615.69 731.1,615.74 733.1,615.82 735.1,615.92 737.1,616.04 739.1,616.17 741.1,616.32 743.1,616.48 745.1,616.64 747.1,616.85 749.1,617.15 751.1,617.54 753.1,617.99 755.1,618.47 757.1,618.95 759.1,619.41 761.1,619.82 763.1,620.15 765.1,620.44 767.1,620.74 769.1,621.04 771.1,621.33 773.1,621.62 775.1,621.88 777.1,622.11 779.1,622.31 781.1,622.47 783.1,622.57 785.1,622.63 787.1,622.62 789.1,622.57 791.1,622.49 793.1,622.4 795.1,622.3 797.1,622.21 799.1,622.14 801.1,622.06 803.1,621.98 805.1,621.89 807.1,621.8 809.1,621.7 811.1,621.58 813.1,621.46 815.1,621.33 817.1,621.2 819.1,621.06 821.1,620.92 823.1,620.77 825.1,620.62 827.1,620.45 829.1,620.29 831.1,620.11 833.1,619.93 835.1,619.74 837.1,619.55 839.1,619.34 841.1,619.14 843.1,618.92 845.1,618.69 847.1,618.46 849.1,618.22 851.1,617.98 853.1,617.72 855.1,617.46 857.1,617.19 859.1,616.91 861.1,616.62 863.1,616.32 865.1,616.02 867.1,615.7 869.1,615.38 871.1,615.05 873.1,614.71 875.1,614.35 877.1,613.99 879.1,613.56 881.1,613.02 883.1,612.39 885.1,611.7 887.1,610.97 889.1,610.22 891.1,609.47 893.1,608.74 895.1,608.07 897.1,607.46 899.1,606.94 901.1,606.5 903.1,606.1 905.1,605.73 907.1,605.38 909.1,605.05 911.1,604.73 913.1,604.42 915.1,604.12 917.1,603.81 919.1,603.5 921.1,603.18 923.1,602.84 925.1,602.49 927.1,602.14 929.1,601.79 931.1,601.46 933.1,601.14 935.1,600.85 937.1,600.6 939.1,600.39 941.1,600.24 943.1,600.09 945.1,599.96 947.1,599.84 949.1,599.74 951.1,599.68 953.1,599.66 955.1,599.66 957.1,599.66 959.1,599.66 961.1,599.66 963.1,599.66 965.1,599.66 967.1,599.66 969.1,599.66 971.1,599.66 973.1,599.66 975.1,599.67 977.1,599.68 979.1,599.69 981.1,599.71 983.1,599.73 985.1,599.75 987.1,599.77 989.1,599.8 991.1,599.83 993.1,599.85 993.9,599.87" fill="none" stroke="#8a8a8a" stroke-width="1"/>
<circle cx="649.6" cy="629.81" r="8.1" fill="#808080"/>
<circle cx="680.9" cy="623.24" r="8.1" fill="#808080"/>
<circle cx="710.3" cy="616.07" r="8.1" fill="#808080"/>
<circle cx="745.8" cy="617.09" r="8.1" fill="#808080"/>
<circle cx="810.6" cy="621.19" r="8.1" fill="#808080"/>
<circle cx="876.8" cy="614.02" r="8.1" fill="#808080"/>
<text transform="translate(647.3,647.04) scale(1,1.02)" font-size="15.3" fill="#fff" text-anchor="middle">4</text>
<text transform="translate(678.6,640.48) scale(1,1.02)" font-size="15.3" fill="#fff" text-anchor="middle">5</text>
<text transform="translate(708,633.3) scale(1,1.02)" font-size="15.3" fill="#fff" text-anchor="middle">6</text>
<text transform="translate(743.5,634.32) scale(1,1.02)" font-size="15.3" fill="#fff" text-anchor="middle">7</text>
<text transform="translate(810.6,638.43) scale(1,1.02)" font-size="15.3" fill="#fff" text-anchor="middle">8a</text>
<text transform="translate(874.5,631.25) scale(1,1.02)" font-size="15.3" fill="#fff" text-anchor="middle">9</text>
<polyline points="605.3,590.34 610.22,592.05 615.14,593.72 620.06,595.34 624.98,596.91 629.9,598.43 634.82,599.91 639.73,601.34 644.65,602.72 649.57,604.06 654.49,605.35 659.41,606.59 664.33,607.78 669.25,608.93 674.17,610.03 679.08,611.08 684,612.09 688.92,613.05 693.84,613.96 698.76,614.82 703.68,615.64 708.6,616.41 713.51,617.13 718.43,617.81 723.35,618.43 728.27,619.02 733.19,619.55 738.11,620.04 743.03,620.47 747.94,620.87 752.86,621.21 757.78,621.51 762.7,621.76 767.62,621.96 772.54,622.12 777.46,622.23 782.37,622.29 787.29,622.3 792.21,622.27 797.13,622.19 802.05,622.06 806.97,621.89 811.89,621.67 816.8,621.4 821.72,621.08 826.64,620.72 831.56,620.31 836.48,619.85 841.4,619.35 846.32,618.8 851.24,618.2 856.15,617.55 861.07,616.86 865.99,616.12 870.91,615.33 875.83,614.49 880.75,613.61 885.67,612.68 890.58,611.71 895.5,610.68 900.42,609.61 905.34,608.49 910.26,607.33 915.18,606.11 920.1,604.85 925.01,603.55 929.93,602.19 934.85,600.79 939.77,599.34 944.69,597.85 949.61,596.31 954.53,594.71 959.44,593.08 964.36,591.39 969.28,589.66 974.2,587.88 979.12,586.06 984.04,584.18 988.96,582.26 993.88,580.3" fill="none" stroke="#111" stroke-width="1.25"/>
<circle cx="785.77" cy="622.22" r="8" fill="#000"/>
<text transform="translate(597,704.2) scale(1,1.07)" font-size="15.3" fill="#000" text-anchor="middle">600</text>
<text transform="translate(678,704.2) scale(1,1.07)" font-size="15.3" fill="#000" text-anchor="middle">700</text>
<text transform="translate(759,704.2) scale(1,1.07)" font-size="15.3" fill="#000" text-anchor="middle">800</text>
<text transform="translate(840,704.2) scale(1,1.07)" font-size="15.3" fill="#000" text-anchor="middle">900</text>
<text transform="translate(921,704.2) scale(1,1.07)" font-size="15.3" fill="#000" text-anchor="middle">1000</text>
<text transform="translate(1002,704.2) scale(1,1.07)" font-size="15.3" fill="#000" text-anchor="middle">1100</text>
<text transform="translate(799.7,720.5) scale(1,1.04)" font-size="15.3" fill="#000" text-anchor="middle">Wavelength (nm)</text>
<text transform="translate(592.8,588.3) scale(1,1.07)" font-size="15.3" fill="#000" text-anchor="end">0.2</text>
<text transform="translate(592.8,668.86) scale(1,1.07)" font-size="15.3" fill="#000" text-anchor="end">0.0</text>
<text transform="translate(559.6,631.8) rotate(-90) scale(1,1.04)" font-size="15.3" fill="#000" text-anchor="middle">Reflectance</text>
<text transform="translate(799.5,571.45)" font-size="19.35" fill="#000" text-anchor="middle">hematita.spc Hematite HS45.3</text>
</g>
<g>
<path d="M597,761.7 V866.9 H1002 V761.7" fill="none" stroke="#1a1a1a" stroke-width="1.25" stroke-linejoin="miter"/>
<path d="M597,861.36 h8 M1002,861.36 h-8 M597,851.4 h4 M1002,851.4 h-4 M597,841.43 h4 M1002,841.43 h-4 M597,831.46 h4 M1002,831.46 h-4 M597,821.5 h4 M1002,821.5 h-4 M597,811.53 h4 M1002,811.53 h-4 M597,801.57 h4 M1002,801.57 h-4 M597,791.6 h4 M1002,791.6 h-4 M597,781.63 h4 M1002,781.63 h-4 M597,771.67 h4 M1002,771.67 h-4 M597,761.7 h8 M1002,761.7 h-8 M597,866.9 v-3.2 M605.1,866.9 v-1.8 M613.2,866.9 v-1.8 M621.3,866.9 v-1.8 M629.4,866.9 v-1.8 M637.5,866.9 v-1.8 M645.6,866.9 v-1.8 M653.7,866.9 v-1.8 M661.8,866.9 v-1.8 M669.9,866.9 v-1.8 M678,866.9 v-3.2 M686.1,866.9 v-1.8 M694.2,866.9 v-1.8 M702.3,866.9 v-1.8 M710.4,866.9 v-1.8 M718.5,866.9 v-1.8 M726.6,866.9 v-1.8 M734.7,866.9 v-1.8 M742.8,866.9 v-1.8 M750.9,866.9 v-1.8 M759,866.9 v-3.2 M767.1,866.9 v-1.8 M775.2,866.9 v-1.8 M783.3,866.9 v-1.8 M791.4,866.9 v-1.8 M799.5,866.9 v-1.8 M807.6,866.9 v-1.8 M815.7,866.9 v-1.8 M823.8,866.9 v-1.8 M831.9,866.9 v-1.8 M840,866.9 v-3.2 M848.1,866.9 v-1.8 M856.2,866.9 v-1.8 M864.3,866.9 v-1.8 M872.4,866.9 v-1.8 M880.5,866.9 v-1.8 M888.6,866.9 v-1.8 M896.7,866.9 v-1.8 M904.8,866.9 v-1.8 M912.9,866.9 v-1.8 M921,866.9 v-3.2 M929.1,866.9 v-1.8 M937.2,866.9 v-1.8 M945.3,866.9 v-1.8 M953.4,866.9 v-1.8 M961.5,866.9 v-1.8 M969.6,866.9 v-1.8 M977.7,866.9 v-1.8 M985.8,866.9 v-1.8 M993.9,866.9 v-1.8 M1002,866.9 v-3.2" fill="none" stroke="#1a1a1a" stroke-width="1.2"/>
<polygon points="605.1,861.36 605.1,797.68 607.1,797.22 609.1,796.75 611.1,796.29 613.1,795.83 615.1,795.36 617.1,794.89 619.1,794.42 621.1,793.95 623.1,793.48 625.1,793.01 627.1,792.54 629.1,792.08 631.1,791.62 633.1,791.16 635.1,790.7 637.1,790.23 639.1,789.76 641.1,789.28 643.1,788.79 645.1,788.29 647.1,787.78 649.1,787.25 651.1,786.69 653.1,786.07 655.1,785.41 657.1,784.73 659.1,784.04 661.1,783.36 663.1,782.69 665.1,782.07 667.1,781.5 669.1,780.99 671.1,780.58 673.1,780.18 675.1,779.79 677.1,779.46 679.1,779.24 681.1,779.17 683.1,779.19 685.1,779.21 687.1,779.26 689.1,779.31 691.1,779.39 693.1,779.47 695.1,779.56 697.1,779.73 699.1,780.1 701.1,780.62 703.1,781.26 705.1,781.96 707.1,782.68 709.1,783.37 711.1,784 713.1,784.64 715.1,785.31 717.1,785.99 719.1,786.69 721.1,787.4 723.1,788.1 725.1,788.8 727.1,789.5 729.1,790.2 731.1,790.91 733.1,791.63 735.1,792.34 737.1,793.06 739.1,793.77 741.1,794.47 743.1,795.16 745.1,795.83 747.1,796.49 749.1,797.15 751.1,797.81 753.1,798.46 755.1,799.1 757.1,799.74 759.1,800.36 761.1,800.97 763.1,801.56 765.1,802.14 767.1,802.7 769.1,803.24 771.1,803.77 773.1,804.3 775.1,804.81 777.1,805.3 779.1,805.78 781.1,806.25 783.1,806.7 785.1,807.13 787.1,807.54 789.1,807.93 791.1,808.3 793.1,808.66 795.1,809 797.1,809.34 799.1,809.67 801.1,810.01 803.1,810.35 805.1,810.67 807.1,810.95 809.1,811.2 811.1,811.4 813.1,811.58 815.1,811.76 817.1,811.94 819.1,812.11 821.1,812.28 823.1,812.44 825.1,812.6 827.1,812.76 829.1,812.9 831.1,813.05 833.1,813.18 835.1,813.31 837.1,813.43 839.1,813.54 841.1,813.64 843.1,813.73 845.1,813.81 847.1,813.88 849.1,813.93 851.1,813.98 853.1,814.01 855.1,814.03 857.1,814.04 859.1,814.02 861.1,813.99 863.1,813.94 865.1,813.88 867.1,813.81 869.1,813.73 871.1,813.65 873.1,813.57 875.1,813.49 877.1,813.42 879.1,813.35 881.1,813.29 883.1,813.23 885.1,813.16 887.1,813.1 889.1,813.03 891.1,812.96 893.1,812.89 895.1,812.81 897.1,812.72 899.1,812.62 901.1,812.52 903.1,812.4 905.1,812.26 907.1,812.11 909.1,811.95 911.1,811.78 913.1,811.61 915.1,811.43 917.1,811.24 919.1,811.05 921.1,810.86 923.1,810.66 925.1,810.44 927.1,810.22 929.1,809.99 931.1,809.75 933.1,809.5 935.1,809.25 937.1,809 939.1,808.74 941.1,808.49 943.1,808.23 945.1,807.98 947.1,807.72 949.1,807.48 951.1,807.23 953.1,806.99 955.1,806.75 957.1,806.51 959.1,806.26 961.1,806.02 963.1,805.78 965.1,805.54 967.1,805.3 969.1,805.06 971.1,804.83 973.1,804.61 975.1,804.38 977.1,804.15 979.1,803.93 981.1,803.71 983.1,803.49 985.1,803.28 987.1,803.06 989.1,802.85 991.1,802.64 993.1,802.43 993.9,802.35 993.9,861.36" fill="#c0c0c0"/>
<polyline points="605.1,797.68 607.1,797.22 609.1,796.75 611.1,796.29 613.1,795.83 615.1,795.36 617.1,794.89 619.1,794.42 621.1,793.95 623.1,793.48 625.1,793.01 627.1,792.54 629.1,792.08 631.1,791.62 633.1,791.16 635.1,790.7 637.1,790.23 639.1,789.76 641.1,789.28 643.1,788.79 645.1,788.29 647.1,787.78 649.1,787.25 651.1,786.69 653.1,786.07 655.1,785.41 657.1,784.73 659.1,784.04 661.1,783.36 663.1,782.69 665.1,782.07 667.1,781.5 669.1,780.99 671.1,780.58 673.1,780.18 675.1,779.79 677.1,779.46 679.1,779.24 681.1,779.17 683.1,779.19 685.1,779.21 687.1,779.26 689.1,779.31 691.1,779.39 693.1,779.47 695.1,779.56 697.1,779.73 699.1,780.1 701.1,780.62 703.1,781.26 705.1,781.96 707.1,782.68 709.1,783.37 711.1,784 713.1,784.64 715.1,785.31 717.1,785.99 719.1,786.69 721.1,787.4 723.1,788.1 725.1,788.8 727.1,789.5 729.1,790.2 731.1,790.91 733.1,791.63 735.1,792.34 737.1,793.06 739.1,793.77 741.1,794.47 743.1,795.16 745.1,795.83 747.1,796.49 749.1,797.15 751.1,797.81 753.1,798.46 755.1,799.1 757.1,799.74 759.1,800.36 761.1,800.97 763.1,801.56 765.1,802.14 767.1,802.7 769.1,803.24 771.1,803.77 773.1,804.3 775.1,804.81 777.1,805.3 779.1,805.78 781.1,806.25 783.1,806.7 785.1,807.13 787.1,807.54 789.1,807.93 791.1,808.3 793.1,808.66 795.1,809 797.1,809.34 799.1,809.67 801.1,810.01 803.1,810.35 805.1,810.67 807.1,810.95 809.1,811.2 811.1,811.4 813.1,811.58 815.1,811.76 817.1,811.94 819.1,812.11 821.1,812.28 823.1,812.44 825.1,812.6 827.1,812.76 829.1,812.9 831.1,813.05 833.1,813.18 835.1,813.31 837.1,813.43 839.1,813.54 841.1,813.64 843.1,813.73 845.1,813.81 847.1,813.88 849.1,813.93 851.1,813.98 853.1,814.01 855.1,814.03 857.1,814.04 859.1,814.02 861.1,813.99 863.1,813.94 865.1,813.88 867.1,813.81 869.1,813.73 871.1,813.65 873.1,813.57 875.1,813.49 877.1,813.42 879.1,813.35 881.1,813.29 883.1,813.23 885.1,813.16 887.1,813.1 889.1,813.03 891.1,812.96 893.1,812.89 895.1,812.81 897.1,812.72 899.1,812.62 901.1,812.52 903.1,812.4 905.1,812.26 907.1,812.11 909.1,811.95 911.1,811.78 913.1,811.61 915.1,811.43 917.1,811.24 919.1,811.05 921.1,810.86 923.1,810.66 925.1,810.44 927.1,810.22 929.1,809.99 931.1,809.75 933.1,809.5 935.1,809.25 937.1,809 939.1,808.74 941.1,808.49 943.1,808.23 945.1,807.98 947.1,807.72 949.1,807.48 951.1,807.23 953.1,806.99 955.1,806.75 957.1,806.51 959.1,806.26 961.1,806.02 963.1,805.78 965.1,805.54 967.1,805.3 969.1,805.06 971.1,804.83 973.1,804.61 975.1,804.38 977.1,804.15 979.1,803.93 981.1,803.71 983.1,803.49 985.1,803.28 987.1,803.06 989.1,802.85 991.1,802.64 993.1,802.43 993.9,802.35" fill="none" stroke="#8a8a8a" stroke-width="1"/>
<circle cx="649.6" cy="787.38" r="8.1" fill="#808080"/>
<circle cx="680.9" cy="778.97" r="8.1" fill="#808080"/>
<circle cx="710.3" cy="782.66" r="8.1" fill="#808080"/>
<circle cx="745.8" cy="794.55" r="8.1" fill="#808080"/>
<circle cx="810.6" cy="810.76" r="8.1" fill="#808080"/>
<circle cx="876.8" cy="813.22" r="8.1" fill="#808080"/>
<text transform="translate(647.3,807.71) scale(1,1.02)" font-size="15.3" fill="#fff" text-anchor="middle">4</text>
<text transform="translate(678.6,799.3) scale(1,1.02)" font-size="15.3" fill="#fff" text-anchor="middle">5</text>
<text transform="translate(708,802.99) scale(1,1.02)" font-size="15.3" fill="#fff" text-anchor="middle">6</text>
<text transform="translate(743.5,814.89) scale(1,1.02)" font-size="15.3" fill="#fff" text-anchor="middle">7</text>
<text transform="translate(810.6,831.09) scale(1,1.02)" font-size="15.3" fill="#fff" text-anchor="middle">8a</text>
<text transform="translate(874.5,833.55) scale(1,1.02)" font-size="15.3" fill="#fff" text-anchor="middle">9</text>
<polyline points="666.42,762.74 670.56,764.97 674.71,767.14 678.85,769.27 683,771.34 687.14,773.37 691.29,775.35 695.43,777.28 699.58,779.15 703.72,780.98 707.87,782.76 712.01,784.49 716.16,786.17 720.3,787.81 724.45,789.39 728.59,790.92 732.74,792.4 736.88,793.84 741.03,795.22 745.17,796.56 749.32,797.84 753.46,799.08 757.61,800.26 761.75,801.4 765.9,802.49 770.04,803.52 774.19,804.51 778.33,805.45 782.48,806.34 786.62,807.18 790.77,807.97 794.91,808.71 799.06,809.41 803.2,810.05 807.35,810.64 811.49,811.18 815.64,811.68 819.78,812.12 823.93,812.52 828.07,812.86 832.22,813.16 836.36,813.41 840.51,813.6 844.65,813.75 848.8,813.85 852.94,813.9 857.09,813.9 861.23,813.85 865.38,813.75 869.52,813.6 873.67,813.4 877.81,813.15 881.96,812.85 886.1,812.51 890.25,812.11 894.39,811.67 898.54,811.17 902.68,810.63 906.83,810.03 910.97,809.39 915.12,808.7 919.26,807.95 923.41,807.16 927.55,806.32 931.7,805.43 935.84,804.49 939.99,803.5 944.13,802.46 948.28,801.37 952.42,800.23 956.57,799.05 960.71,797.81 964.86,796.52 969,795.19 973.15,793.8 977.29,792.37 981.44,790.88 985.58,789.35 989.73,787.76 993.88,786.13" fill="none" stroke="#111" stroke-width="1.25"/>
<circle cx="856.88" cy="813.83" r="8" fill="#000"/>
<text transform="translate(597,886.7) scale(1,1.07)" font-size="15.3" fill="#000" text-anchor="middle">600</text>
<text transform="translate(678,886.7) scale(1,1.07)" font-size="15.3" fill="#000" text-anchor="middle">700</text>
<text transform="translate(759,886.7) scale(1,1.07)" font-size="15.3" fill="#000" text-anchor="middle">800</text>
<text transform="translate(840,886.7) scale(1,1.07)" font-size="15.3" fill="#000" text-anchor="middle">900</text>
<text transform="translate(921,886.7) scale(1,1.07)" font-size="15.3" fill="#000" text-anchor="middle">1000</text>
<text transform="translate(1002,886.7) scale(1,1.07)" font-size="15.3" fill="#000" text-anchor="middle">1100</text>
<text transform="translate(799.7,903) scale(1,1.04)" font-size="15.3" fill="#000" text-anchor="middle">Wavelength (nm)</text>
<text transform="translate(592.8,770.8) scale(1,1.07)" font-size="15.3" fill="#000" text-anchor="end">0.9</text>
<text transform="translate(592.8,866.86) scale(1,1.07)" font-size="15.3" fill="#000" text-anchor="end">0.0</text>
<text transform="translate(559.6,814.3) rotate(-90) scale(1,1.04)" font-size="15.3" fill="#000" text-anchor="middle">Reflectance</text>
<text transform="translate(799.5,753.95)" font-size="19.35" fill="#000" text-anchor="middle">jarosit1.spc Jarosite GDS99 K−y 200C</text>
</g>
<g>
<path d="M597,944.2 V1049.4 H1002 V944.2" fill="none" stroke="#1a1a1a" stroke-width="1.25" stroke-linejoin="miter"/>
<path d="M597,1043.21 h8 M1002,1043.21 h-8 M597,1033.31 h4 M1002,1033.31 h-4 M597,1023.41 h4 M1002,1023.41 h-4 M597,1013.51 h4 M1002,1013.51 h-4 M597,1003.61 h4 M1002,1003.61 h-4 M597,993.71 h4 M1002,993.71 h-4 M597,983.8 h4 M1002,983.8 h-4 M597,973.9 h4 M1002,973.9 h-4 M597,964 h4 M1002,964 h-4 M597,954.1 h4 M1002,954.1 h-4 M597,944.2 h8 M1002,944.2 h-8 M597,1049.4 v-3.2 M605.1,1049.4 v-1.8 M613.2,1049.4 v-1.8 M621.3,1049.4 v-1.8 M629.4,1049.4 v-1.8 M637.5,1049.4 v-1.8 M645.6,1049.4 v-1.8 M653.7,1049.4 v-1.8 M661.8,1049.4 v-1.8 M669.9,1049.4 v-1.8 M678,1049.4 v-3.2 M686.1,1049.4 v-1.8 M694.2,1049.4 v-1.8 M702.3,1049.4 v-1.8 M710.4,1049.4 v-1.8 M718.5,1049.4 v-1.8 M726.6,1049.4 v-1.8 M734.7,1049.4 v-1.8 M742.8,1049.4 v-1.8 M750.9,1049.4 v-1.8 M759,1049.4 v-3.2 M767.1,1049.4 v-1.8 M775.2,1049.4 v-1.8 M783.3,1049.4 v-1.8 M791.4,1049.4 v-1.8 M799.5,1049.4 v-1.8 M807.6,1049.4 v-1.8 M815.7,1049.4 v-1.8 M823.8,1049.4 v-1.8 M831.9,1049.4 v-1.8 M840,1049.4 v-3.2 M848.1,1049.4 v-1.8 M856.2,1049.4 v-1.8 M864.3,1049.4 v-1.8 M872.4,1049.4 v-1.8 M880.5,1049.4 v-1.8 M888.6,1049.4 v-1.8 M896.7,1049.4 v-1.8 M904.8,1049.4 v-1.8 M912.9,1049.4 v-1.8 M921,1049.4 v-3.2 M929.1,1049.4 v-1.8 M937.2,1049.4 v-1.8 M945.3,1049.4 v-1.8 M953.4,1049.4 v-1.8 M961.5,1049.4 v-1.8 M969.6,1049.4 v-1.8 M977.7,1049.4 v-1.8 M985.8,1049.4 v-1.8 M993.9,1049.4 v-1.8 M1002,1049.4 v-3.2" fill="none" stroke="#1a1a1a" stroke-width="1.2"/>
<polygon points="605.1,1043.21 605.1,1035.81 607.1,1035.95 609.1,1036.09 611.1,1036.23 613.1,1036.36 615.1,1036.5 617.1,1036.63 619.1,1036.76 621.1,1036.89 623.1,1037.01 625.1,1037.14 627.1,1037.27 629.1,1037.42 631.1,1037.57 633.1,1037.72 635.1,1037.86 637.1,1038 639.1,1038.13 641.1,1038.25 643.1,1038.34 645.1,1038.42 647.1,1038.47 649.1,1038.49 651.1,1038.49 653.1,1038.49 655.1,1038.49 657.1,1038.49 659.1,1038.49 661.1,1038.49 663.1,1038.48 665.1,1038.3 667.1,1037.91 669.1,1037.4 671.1,1036.41 673.1,1034.94 675.1,1033.31 677.1,1031.52 679.1,1029.47 681.1,1027.25 683.1,1024.84 685.1,1022.21 687.1,1019.36 689.1,1016.22 691.1,1012.76 693.1,1009.12 695.1,1005.45 697.1,1001.73 699.1,997.83 701.1,993.96 703.1,990.34 705.1,987.16 707.1,984.3 709.1,981.5 711.1,978.47 713.1,975.15 715.1,972.05 717.1,969.57 719.1,967.36 721.1,965.4 723.1,963.77 725.1,962.53 727.1,961.45 729.1,960.54 731.1,959.85 733.1,959.42 735.1,959.11 737.1,958.85 739.1,958.63 741.1,958.45 743.1,958.29 745.1,958.13 747.1,957.98 749.1,957.84 751.1,957.7 753.1,957.56 755.1,957.44 757.1,957.32 759.1,957.21 761.1,957.11 763.1,957.02 765.1,956.94 767.1,956.87 769.1,956.81 771.1,956.75 773.1,956.69 775.1,956.63 777.1,956.58 779.1,956.53 781.1,956.49 783.1,956.47 785.1,956.46 787.1,956.46 789.1,956.46 791.1,956.46 793.1,956.46 795.1,956.46 797.1,956.46 799.1,956.44 801.1,956.39 803.1,956.32 805.1,956.24 807.1,956.16 809.1,956.09 811.1,956.04 813.1,956 815.1,955.95 817.1,955.91 819.1,955.87 821.1,955.83 823.1,955.79 825.1,955.76 827.1,955.73 829.1,955.7 831.1,955.68 833.1,955.66 835.1,955.64 837.1,955.64 839.1,955.64 841.1,955.66 843.1,955.71 845.1,955.77 847.1,955.86 849.1,955.96 851.1,956.08 853.1,956.21 855.1,956.36 857.1,956.52 859.1,956.69 861.1,956.87 863.1,957.06 865.1,957.25 867.1,957.46 869.1,957.67 871.1,957.88 873.1,958.09 875.1,958.31 877.1,958.52 879.1,958.8 881.1,959.17 883.1,959.59 885.1,960.04 887.1,960.49 889.1,960.9 891.1,961.24 893.1,961.48 895.1,961.58 897.1,961.58 899.1,961.56 901.1,961.52 903.1,961.47 905.1,961.42 907.1,961.35 909.1,961.28 911.1,961.2 913.1,961.11 915.1,960.98 917.1,960.81 919.1,960.6 921.1,960.37 923.1,960.12 925.1,959.85 927.1,959.59 929.1,959.33 931.1,959.07 933.1,958.84 935.1,958.63 937.1,958.45 939.1,958.29 941.1,958.12 943.1,957.96 945.1,957.8 947.1,957.65 949.1,957.51 951.1,957.38 953.1,957.26 955.1,957.16 957.1,957.07 959.1,956.98 961.1,956.9 963.1,956.81 965.1,956.73 967.1,956.66 969.1,956.6 971.1,956.54 973.1,956.5 975.1,956.47 977.1,956.46 979.1,956.46 981.1,956.46 983.1,956.46 985.1,956.46 987.1,956.46 989.1,956.46 991.1,956.46 993.1,956.46 993.9,956.46 993.9,1043.21" fill="#c0c0c0"/>
<polyline points="605.1,1035.81 607.1,1035.95 609.1,1036.09 611.1,1036.23 613.1,1036.36 615.1,1036.5 617.1,1036.63 619.1,1036.76 621.1,1036.89 623.1,1037.01 625.1,1037.14 627.1,1037.27 629.1,1037.42 631.1,1037.57 633.1,1037.72 635.1,1037.86 637.1,1038 639.1,1038.13 641.1,1038.25 643.1,1038.34 645.1,1038.42 647.1,1038.47 649.1,1038.49 651.1,1038.49 653.1,1038.49 655.1,1038.49 657.1,1038.49 659.1,1038.49 661.1,1038.49 663.1,1038.48 665.1,1038.3 667.1,1037.91 669.1,1037.4 671.1,1036.41 673.1,1034.94 675.1,1033.31 677.1,1031.52 679.1,1029.47 681.1,1027.25 683.1,1024.84 685.1,1022.21 687.1,1019.36 689.1,1016.22 691.1,1012.76 693.1,1009.12 695.1,1005.45 697.1,1001.73 699.1,997.83 701.1,993.96 703.1,990.34 705.1,987.16 707.1,984.3 709.1,981.5 711.1,978.47 713.1,975.15 715.1,972.05 717.1,969.57 719.1,967.36 721.1,965.4 723.1,963.77 725.1,962.53 727.1,961.45 729.1,960.54 731.1,959.85 733.1,959.42 735.1,959.11 737.1,958.85 739.1,958.63 741.1,958.45 743.1,958.29 745.1,958.13 747.1,957.98 749.1,957.84 751.1,957.7 753.1,957.56 755.1,957.44 757.1,957.32 759.1,957.21 761.1,957.11 763.1,957.02 765.1,956.94 767.1,956.87 769.1,956.81 771.1,956.75 773.1,956.69 775.1,956.63 777.1,956.58 779.1,956.53 781.1,956.49 783.1,956.47 785.1,956.46 787.1,956.46 789.1,956.46 791.1,956.46 793.1,956.46 795.1,956.46 797.1,956.46 799.1,956.44 801.1,956.39 803.1,956.32 805.1,956.24 807.1,956.16 809.1,956.09 811.1,956.04 813.1,956 815.1,955.95 817.1,955.91 819.1,955.87 821.1,955.83 823.1,955.79 825.1,955.76 827.1,955.73 829.1,955.7 831.1,955.68 833.1,955.66 835.1,955.64 837.1,955.64 839.1,955.64 841.1,955.66 843.1,955.71 845.1,955.77 847.1,955.86 849.1,955.96 851.1,956.08 853.1,956.21 855.1,956.36 857.1,956.52 859.1,956.69 861.1,956.87 863.1,957.06 865.1,957.25 867.1,957.46 869.1,957.67 871.1,957.88 873.1,958.09 875.1,958.31 877.1,958.52 879.1,958.8 881.1,959.17 883.1,959.59 885.1,960.04 887.1,960.49 889.1,960.9 891.1,961.24 893.1,961.48 895.1,961.58 897.1,961.58 899.1,961.56 901.1,961.52 903.1,961.47 905.1,961.42 907.1,961.35 909.1,961.28 911.1,961.2 913.1,961.11 915.1,960.98 917.1,960.81 919.1,960.6 921.1,960.37 923.1,960.12 925.1,959.85 927.1,959.59 929.1,959.33 931.1,959.07 933.1,958.84 935.1,958.63 937.1,958.45 939.1,958.29 941.1,958.12 943.1,957.96 945.1,957.8 947.1,957.65 949.1,957.51 951.1,957.38 953.1,957.26 955.1,957.16 957.1,957.07 959.1,956.98 961.1,956.9 963.1,956.81 965.1,956.73 967.1,956.66 969.1,956.6 971.1,956.54 973.1,956.5 975.1,956.47 977.1,956.46 979.1,956.46 981.1,956.46 983.1,956.46 985.1,956.46 987.1,956.46 989.1,956.46 991.1,956.46 993.1,956.46 993.9,956.46" fill="none" stroke="#8a8a8a" stroke-width="1"/>
<circle cx="649.6" cy="1037.87" r="8.1" fill="#808080"/>
<circle cx="680.9" cy="1027.62" r="8.1" fill="#808080"/>
<circle cx="710.3" cy="981.07" r="8.1" fill="#808080"/>
<circle cx="745.8" cy="958.51" r="8.1" fill="#808080"/>
<circle cx="810.6" cy="956.05" r="8.1" fill="#808080"/>
<circle cx="876.8" cy="958.51" r="8.1" fill="#808080"/>
<text transform="translate(647.3,1058.08) scale(1,1.02)" font-size="15.3" fill="#fff" text-anchor="middle">4</text>
<text transform="translate(678.6,1047.82) scale(1,1.02)" font-size="15.3" fill="#fff" text-anchor="middle">5</text>
<text transform="translate(708,1001.27) scale(1,1.02)" font-size="15.3" fill="#fff" text-anchor="middle">6</text>
<text transform="translate(743.5,978.71) scale(1,1.02)" font-size="15.3" fill="#fff" text-anchor="middle">7</text>
<text transform="translate(810.6,976.25) scale(1,1.02)" font-size="15.3" fill="#fff" text-anchor="middle">8a</text>
<text transform="translate(874.5,978.71) scale(1,1.02)" font-size="15.3" fill="#fff" text-anchor="middle">9</text>
<polyline points="607.56,1041.29 612.45,1037.55 617.34,1033.89 622.23,1030.32 627.12,1026.82 632.01,1023.42 636.9,1020.09 641.79,1016.84 646.68,1013.68 651.57,1010.61 656.46,1007.61 661.35,1004.7 666.24,1001.87 671.13,999.12 676.02,996.46 680.91,993.88 685.8,991.38 690.69,988.97 695.58,986.64 700.47,984.39 705.36,982.22 710.25,980.14 715.14,978.14 720.03,976.23 724.92,974.39 729.81,972.64 734.7,970.97 739.59,969.39 744.48,967.89 749.37,966.47 754.26,965.13 759.15,963.88 764.04,962.71 768.93,961.62 773.82,960.62 778.71,959.7 783.6,958.86 788.49,958.1 793.38,957.43 798.27,956.84 803.16,956.34 808.05,955.91 812.94,955.57 817.83,955.31 822.72,955.14 827.61,955.05 832.5,955.04 837.39,955.11 842.28,955.27 847.17,955.51 852.06,955.83 856.95,956.24 861.84,956.73 866.73,957.3 871.62,957.95 876.51,958.69 881.4,959.51 886.29,960.42 891.18,961.4 896.07,962.47 900.96,963.62 905.85,964.86 910.74,966.18 915.63,967.58 920.52,969.06 925.41,970.63 930.3,972.28 935.19,974.01 940.08,975.83 944.97,977.73 949.86,979.71 954.75,981.78 959.64,983.92 964.53,986.16 969.42,988.47 974.31,990.87 979.2,993.35 984.09,995.91 988.98,998.55 993.88,1001.28" fill="none" stroke="#111" stroke-width="1.25"/>
<text transform="translate(597,1069.2) scale(1,1.07)" font-size="15.3" fill="#000" text-anchor="middle">600</text>
<text transform="translate(678,1069.2) scale(1,1.07)" font-size="15.3" fill="#000" text-anchor="middle">700</text>
<text transform="translate(759,1069.2) scale(1,1.07)" font-size="15.3" fill="#000" text-anchor="middle">800</text>
<text transform="translate(840,1069.2) scale(1,1.07)" font-size="15.3" fill="#000" text-anchor="middle">900</text>
<text transform="translate(921,1069.2) scale(1,1.07)" font-size="15.3" fill="#000" text-anchor="middle">1000</text>
<text transform="translate(1002,1069.2) scale(1,1.07)" font-size="15.3" fill="#000" text-anchor="middle">1100</text>
<text transform="translate(799.7,1085.5) scale(1,1.04)" font-size="15.3" fill="#000" text-anchor="middle">Wavelength (nm)</text>
<text transform="translate(592.8,953.3) scale(1,1.07)" font-size="15.3" fill="#000" text-anchor="end">0.8</text>
<text transform="translate(592.8,1048.71) scale(1,1.07)" font-size="15.3" fill="#000" text-anchor="end">0.0</text>
<text transform="translate(559.6,996.8) rotate(-90) scale(1,1.04)" font-size="15.3" fill="#000" text-anchor="middle">Reflectance</text>
<text transform="translate(799.5,936.45)" font-size="19.35" fill="#000" text-anchor="middle">grass.spc Lawn</text>
</g>
</svg>
</body></html>
